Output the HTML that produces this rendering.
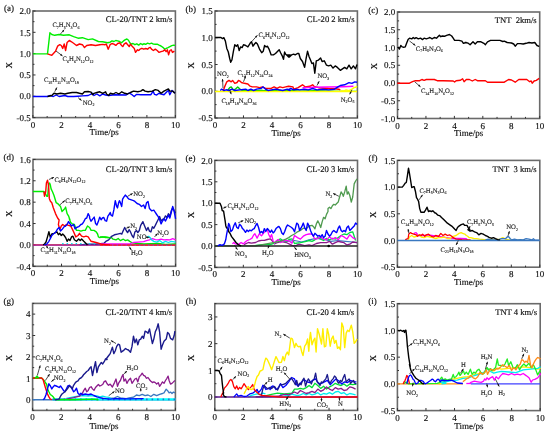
<!DOCTYPE html>
<html><head><meta charset="utf-8"><style>
html,body{margin:0;padding:0;background:#fff;}
svg{display:block;will-change:transform;}
text{font-family:"Liberation Serif", serif;fill:#111;stroke:#111;stroke-width:0.15px;text-rendering:geometricPrecision;}
text.f{stroke-width:0.12px;fill:#222;stroke:#222;}
</style></head><body>
<svg width="550" height="437" viewBox="0 0 550 437">
<rect width="550" height="437" fill="#fff"/>
<text x="4.00" y="11.20" font-size="9" text-anchor="start" >(a)</text>
<text x="185.60" y="11.50" font-size="9" text-anchor="start" >(b)</text>
<text x="368.30" y="12.60" font-size="9" text-anchor="start" >(c)</text>
<text x="3.60" y="159.80" font-size="9" text-anchor="start" >(d)</text>
<text x="185.60" y="160.50" font-size="9" text-anchor="start" >(e)</text>
<text x="368.50" y="160.90" font-size="9" text-anchor="start" >(f)</text>
<text x="3.60" y="304.40" font-size="9" text-anchor="start" >(g)</text>
<text x="185.80" y="304.00" font-size="9" text-anchor="start" >(h)</text>
<text x="368.20" y="304.00" font-size="9" text-anchor="start" >(i)</text>
<text x="172.40" y="22.40" font-size="8.6" text-anchor="end" >CL-20/TNT 2 km/s</text>
<text x="354.50" y="22.20" font-size="8.6" text-anchor="end" >CL-20 2 km/s</text>
<text x="536.70" y="23.10" font-size="8.6" text-anchor="end" >TNT&#160;&#160;2km/s</text>
<text x="172.40" y="171.60" font-size="8.6" text-anchor="end" >CL-20/TNT 3 km/s</text>
<text x="354.20" y="171.80" font-size="8.6" text-anchor="end" >CL-20 3 km/s</text>
<text x="536.70" y="171.80" font-size="8.6" text-anchor="end" >TNT&#160;&#160;3 km/s</text>
<text x="172.20" y="314.90" font-size="8.6" text-anchor="end" >CL-20/TNT 4 km/s</text>
<text x="354.20" y="315.00" font-size="8.6" text-anchor="end" >CL-20 4 km/s</text>
<text x="537.00" y="315.00" font-size="8.6" text-anchor="end" >TNT 4 km/s</text>
<rect x="32.90" y="11.00" width="142.50" height="106.60" fill="none" stroke="#6a6a6a" stroke-width="1.6"/>
<line x1="32.90" y1="117.60" x2="32.90" y2="115.00" stroke="#333" stroke-width="1"/>
<text x="32.90" y="127.60" font-size="9" text-anchor="middle" >0</text>
<line x1="47.15" y1="117.60" x2="47.15" y2="116.00" stroke="#333" stroke-width="1"/>
<line x1="61.40" y1="117.60" x2="61.40" y2="115.00" stroke="#333" stroke-width="1"/>
<text x="61.40" y="127.60" font-size="9" text-anchor="middle" >2</text>
<line x1="75.65" y1="117.60" x2="75.65" y2="116.00" stroke="#333" stroke-width="1"/>
<line x1="89.90" y1="117.60" x2="89.90" y2="115.00" stroke="#333" stroke-width="1"/>
<text x="89.90" y="127.60" font-size="9" text-anchor="middle" >4</text>
<line x1="104.15" y1="117.60" x2="104.15" y2="116.00" stroke="#333" stroke-width="1"/>
<line x1="118.40" y1="117.60" x2="118.40" y2="115.00" stroke="#333" stroke-width="1"/>
<text x="118.40" y="127.60" font-size="9" text-anchor="middle" >6</text>
<line x1="132.65" y1="117.60" x2="132.65" y2="116.00" stroke="#333" stroke-width="1"/>
<line x1="146.90" y1="117.60" x2="146.90" y2="115.00" stroke="#333" stroke-width="1"/>
<text x="146.90" y="127.60" font-size="9" text-anchor="middle" >8</text>
<line x1="161.15" y1="117.60" x2="161.15" y2="116.00" stroke="#333" stroke-width="1"/>
<line x1="175.40" y1="117.60" x2="175.40" y2="115.00" stroke="#333" stroke-width="1"/>
<text x="175.40" y="127.60" font-size="9" text-anchor="middle" >10</text>
<line x1="32.90" y1="117.60" x2="35.50" y2="117.60" stroke="#333" stroke-width="1"/>
<text x="30.70" y="120.80" font-size="9" text-anchor="end" >-0.5</text>
<line x1="32.90" y1="106.94" x2="34.50" y2="106.94" stroke="#333" stroke-width="1"/>
<line x1="32.90" y1="96.28" x2="35.50" y2="96.28" stroke="#333" stroke-width="1"/>
<text x="30.70" y="99.48" font-size="9" text-anchor="end" >0.0</text>
<line x1="32.90" y1="85.62" x2="34.50" y2="85.62" stroke="#333" stroke-width="1"/>
<line x1="32.90" y1="74.96" x2="35.50" y2="74.96" stroke="#333" stroke-width="1"/>
<text x="30.70" y="78.16" font-size="9" text-anchor="end" >0.5</text>
<line x1="32.90" y1="64.30" x2="34.50" y2="64.30" stroke="#333" stroke-width="1"/>
<line x1="32.90" y1="53.64" x2="35.50" y2="53.64" stroke="#333" stroke-width="1"/>
<text x="30.70" y="56.84" font-size="9" text-anchor="end" >1.0</text>
<line x1="32.90" y1="42.98" x2="34.50" y2="42.98" stroke="#333" stroke-width="1"/>
<line x1="32.90" y1="32.32" x2="35.50" y2="32.32" stroke="#333" stroke-width="1"/>
<text x="30.70" y="35.52" font-size="9" text-anchor="end" >1.5</text>
<line x1="32.90" y1="21.66" x2="34.50" y2="21.66" stroke="#333" stroke-width="1"/>
<line x1="32.90" y1="11.00" x2="35.50" y2="11.00" stroke="#333" stroke-width="1"/>
<text x="30.70" y="14.20" font-size="9" text-anchor="end" >2.0</text>
<text x="104.15" y="135.20" font-size="9" text-anchor="middle" >Time/ps</text>
<text x="0" y="0" font-size="9" text-anchor="middle" transform="translate(11.90,65.30) rotate(-90)">X</text>
<rect x="215.00" y="11.00" width="142.40" height="107.00" fill="none" stroke="#6a6a6a" stroke-width="1.6"/>
<line x1="215.00" y1="118.00" x2="215.00" y2="115.40" stroke="#333" stroke-width="1"/>
<text x="215.00" y="128.00" font-size="9" text-anchor="middle" >0</text>
<line x1="229.24" y1="118.00" x2="229.24" y2="116.40" stroke="#333" stroke-width="1"/>
<line x1="243.48" y1="118.00" x2="243.48" y2="115.40" stroke="#333" stroke-width="1"/>
<text x="243.48" y="128.00" font-size="9" text-anchor="middle" >2</text>
<line x1="257.72" y1="118.00" x2="257.72" y2="116.40" stroke="#333" stroke-width="1"/>
<line x1="271.96" y1="118.00" x2="271.96" y2="115.40" stroke="#333" stroke-width="1"/>
<text x="271.96" y="128.00" font-size="9" text-anchor="middle" >4</text>
<line x1="286.20" y1="118.00" x2="286.20" y2="116.40" stroke="#333" stroke-width="1"/>
<line x1="300.44" y1="118.00" x2="300.44" y2="115.40" stroke="#333" stroke-width="1"/>
<text x="300.44" y="128.00" font-size="9" text-anchor="middle" >6</text>
<line x1="314.68" y1="118.00" x2="314.68" y2="116.40" stroke="#333" stroke-width="1"/>
<line x1="328.92" y1="118.00" x2="328.92" y2="115.40" stroke="#333" stroke-width="1"/>
<text x="328.92" y="128.00" font-size="9" text-anchor="middle" >8</text>
<line x1="343.16" y1="118.00" x2="343.16" y2="116.40" stroke="#333" stroke-width="1"/>
<line x1="357.40" y1="118.00" x2="357.40" y2="115.40" stroke="#333" stroke-width="1"/>
<text x="357.40" y="128.00" font-size="9" text-anchor="middle" >10</text>
<line x1="215.00" y1="118.00" x2="217.60" y2="118.00" stroke="#333" stroke-width="1"/>
<text x="212.80" y="121.20" font-size="9" text-anchor="end" >-0.5</text>
<line x1="215.00" y1="104.62" x2="216.60" y2="104.62" stroke="#333" stroke-width="1"/>
<line x1="215.00" y1="91.25" x2="217.60" y2="91.25" stroke="#333" stroke-width="1"/>
<text x="212.80" y="94.45" font-size="9" text-anchor="end" >0.0</text>
<line x1="215.00" y1="77.88" x2="216.60" y2="77.88" stroke="#333" stroke-width="1"/>
<line x1="215.00" y1="64.50" x2="217.60" y2="64.50" stroke="#333" stroke-width="1"/>
<text x="212.80" y="67.70" font-size="9" text-anchor="end" >0.5</text>
<line x1="215.00" y1="51.12" x2="216.60" y2="51.12" stroke="#333" stroke-width="1"/>
<line x1="215.00" y1="37.75" x2="217.60" y2="37.75" stroke="#333" stroke-width="1"/>
<text x="212.80" y="40.95" font-size="9" text-anchor="end" >1.0</text>
<line x1="215.00" y1="24.38" x2="216.60" y2="24.38" stroke="#333" stroke-width="1"/>
<line x1="215.00" y1="11.00" x2="217.60" y2="11.00" stroke="#333" stroke-width="1"/>
<text x="212.80" y="14.20" font-size="9" text-anchor="end" >1.5</text>
<text x="286.20" y="135.60" font-size="9" text-anchor="middle" >Time/ps</text>
<text x="0" y="0" font-size="9" text-anchor="middle" transform="translate(194.00,65.50) rotate(-90)">X</text>
<rect x="397.50" y="12.00" width="142.20" height="106.50" fill="none" stroke="#6a6a6a" stroke-width="1.6"/>
<line x1="397.50" y1="118.50" x2="397.50" y2="115.90" stroke="#333" stroke-width="1"/>
<text x="397.50" y="128.50" font-size="9" text-anchor="middle" >0</text>
<line x1="411.72" y1="118.50" x2="411.72" y2="116.90" stroke="#333" stroke-width="1"/>
<line x1="425.94" y1="118.50" x2="425.94" y2="115.90" stroke="#333" stroke-width="1"/>
<text x="425.94" y="128.50" font-size="9" text-anchor="middle" >2</text>
<line x1="440.16" y1="118.50" x2="440.16" y2="116.90" stroke="#333" stroke-width="1"/>
<line x1="454.38" y1="118.50" x2="454.38" y2="115.90" stroke="#333" stroke-width="1"/>
<text x="454.38" y="128.50" font-size="9" text-anchor="middle" >4</text>
<line x1="468.60" y1="118.50" x2="468.60" y2="116.90" stroke="#333" stroke-width="1"/>
<line x1="482.82" y1="118.50" x2="482.82" y2="115.90" stroke="#333" stroke-width="1"/>
<text x="482.82" y="128.50" font-size="9" text-anchor="middle" >6</text>
<line x1="497.04" y1="118.50" x2="497.04" y2="116.90" stroke="#333" stroke-width="1"/>
<line x1="511.26" y1="118.50" x2="511.26" y2="115.90" stroke="#333" stroke-width="1"/>
<text x="511.26" y="128.50" font-size="9" text-anchor="middle" >8</text>
<line x1="525.48" y1="118.50" x2="525.48" y2="116.90" stroke="#333" stroke-width="1"/>
<line x1="539.70" y1="118.50" x2="539.70" y2="115.90" stroke="#333" stroke-width="1"/>
<text x="539.70" y="128.50" font-size="9" text-anchor="middle" >10</text>
<line x1="397.50" y1="118.50" x2="400.10" y2="118.50" stroke="#333" stroke-width="1"/>
<text x="395.30" y="121.70" font-size="9" text-anchor="end" >-1.0</text>
<line x1="397.50" y1="109.62" x2="399.10" y2="109.62" stroke="#333" stroke-width="1"/>
<line x1="397.50" y1="100.75" x2="400.10" y2="100.75" stroke="#333" stroke-width="1"/>
<text x="395.30" y="103.95" font-size="9" text-anchor="end" >-0.5</text>
<line x1="397.50" y1="91.88" x2="399.10" y2="91.88" stroke="#333" stroke-width="1"/>
<line x1="397.50" y1="83.00" x2="400.10" y2="83.00" stroke="#333" stroke-width="1"/>
<text x="395.30" y="86.20" font-size="9" text-anchor="end" >0.0</text>
<line x1="397.50" y1="74.12" x2="399.10" y2="74.12" stroke="#333" stroke-width="1"/>
<line x1="397.50" y1="65.25" x2="400.10" y2="65.25" stroke="#333" stroke-width="1"/>
<text x="395.30" y="68.45" font-size="9" text-anchor="end" >0.5</text>
<line x1="397.50" y1="56.38" x2="399.10" y2="56.38" stroke="#333" stroke-width="1"/>
<line x1="397.50" y1="47.50" x2="400.10" y2="47.50" stroke="#333" stroke-width="1"/>
<text x="395.30" y="50.70" font-size="9" text-anchor="end" >1.0</text>
<line x1="397.50" y1="38.62" x2="399.10" y2="38.62" stroke="#333" stroke-width="1"/>
<line x1="397.50" y1="29.75" x2="400.10" y2="29.75" stroke="#333" stroke-width="1"/>
<text x="395.30" y="32.95" font-size="9" text-anchor="end" >1.5</text>
<line x1="397.50" y1="20.88" x2="399.10" y2="20.88" stroke="#333" stroke-width="1"/>
<line x1="397.50" y1="12.00" x2="400.10" y2="12.00" stroke="#333" stroke-width="1"/>
<text x="395.30" y="15.20" font-size="9" text-anchor="end" >2.0</text>
<text x="468.60" y="136.10" font-size="9" text-anchor="middle" >Time/ps</text>
<text x="0" y="0" font-size="9" text-anchor="middle" transform="translate(376.50,66.25) rotate(-90)">X</text>
<rect x="33.00" y="159.40" width="142.60" height="106.90" fill="none" stroke="#6a6a6a" stroke-width="1.6"/>
<line x1="33.00" y1="266.30" x2="33.00" y2="263.70" stroke="#333" stroke-width="1"/>
<text x="33.00" y="276.30" font-size="9" text-anchor="middle" >0</text>
<line x1="47.26" y1="266.30" x2="47.26" y2="264.70" stroke="#333" stroke-width="1"/>
<line x1="61.52" y1="266.30" x2="61.52" y2="263.70" stroke="#333" stroke-width="1"/>
<text x="61.52" y="276.30" font-size="9" text-anchor="middle" >2</text>
<line x1="75.78" y1="266.30" x2="75.78" y2="264.70" stroke="#333" stroke-width="1"/>
<line x1="90.04" y1="266.30" x2="90.04" y2="263.70" stroke="#333" stroke-width="1"/>
<text x="90.04" y="276.30" font-size="9" text-anchor="middle" >4</text>
<line x1="104.30" y1="266.30" x2="104.30" y2="264.70" stroke="#333" stroke-width="1"/>
<line x1="118.56" y1="266.30" x2="118.56" y2="263.70" stroke="#333" stroke-width="1"/>
<text x="118.56" y="276.30" font-size="9" text-anchor="middle" >6</text>
<line x1="132.82" y1="266.30" x2="132.82" y2="264.70" stroke="#333" stroke-width="1"/>
<line x1="147.08" y1="266.30" x2="147.08" y2="263.70" stroke="#333" stroke-width="1"/>
<text x="147.08" y="276.30" font-size="9" text-anchor="middle" >8</text>
<line x1="161.34" y1="266.30" x2="161.34" y2="264.70" stroke="#333" stroke-width="1"/>
<line x1="175.60" y1="266.30" x2="175.60" y2="263.70" stroke="#333" stroke-width="1"/>
<text x="175.60" y="276.30" font-size="9" text-anchor="middle" >10</text>
<line x1="33.00" y1="266.30" x2="35.60" y2="266.30" stroke="#333" stroke-width="1"/>
<text x="30.80" y="269.50" font-size="9" text-anchor="end" >-0.4</text>
<line x1="33.00" y1="255.61" x2="34.60" y2="255.61" stroke="#333" stroke-width="1"/>
<line x1="33.00" y1="244.92" x2="35.60" y2="244.92" stroke="#333" stroke-width="1"/>
<text x="30.80" y="248.12" font-size="9" text-anchor="end" >0.0</text>
<line x1="33.00" y1="234.23" x2="34.60" y2="234.23" stroke="#333" stroke-width="1"/>
<line x1="33.00" y1="223.54" x2="35.60" y2="223.54" stroke="#333" stroke-width="1"/>
<text x="30.80" y="226.74" font-size="9" text-anchor="end" >0.4</text>
<line x1="33.00" y1="212.85" x2="34.60" y2="212.85" stroke="#333" stroke-width="1"/>
<line x1="33.00" y1="202.16" x2="35.60" y2="202.16" stroke="#333" stroke-width="1"/>
<text x="30.80" y="205.36" font-size="9" text-anchor="end" >0.8</text>
<line x1="33.00" y1="191.47" x2="34.60" y2="191.47" stroke="#333" stroke-width="1"/>
<line x1="33.00" y1="180.78" x2="35.60" y2="180.78" stroke="#333" stroke-width="1"/>
<text x="30.80" y="183.98" font-size="9" text-anchor="end" >1.2</text>
<line x1="33.00" y1="170.09" x2="34.60" y2="170.09" stroke="#333" stroke-width="1"/>
<line x1="33.00" y1="159.40" x2="35.60" y2="159.40" stroke="#333" stroke-width="1"/>
<text x="30.80" y="162.60" font-size="9" text-anchor="end" >1.6</text>
<text x="104.30" y="283.90" font-size="9" text-anchor="middle" >Time/ps</text>
<text x="0" y="0" font-size="9" text-anchor="middle" transform="translate(12.00,213.85) rotate(-90)">X</text>
<rect x="214.80" y="160.40" width="142.70" height="107.00" fill="none" stroke="#6a6a6a" stroke-width="1.6"/>
<line x1="214.80" y1="267.40" x2="214.80" y2="264.80" stroke="#333" stroke-width="1"/>
<text x="214.80" y="277.40" font-size="9" text-anchor="middle" >0</text>
<line x1="229.07" y1="267.40" x2="229.07" y2="265.80" stroke="#333" stroke-width="1"/>
<line x1="243.34" y1="267.40" x2="243.34" y2="264.80" stroke="#333" stroke-width="1"/>
<text x="243.34" y="277.40" font-size="9" text-anchor="middle" >2</text>
<line x1="257.61" y1="267.40" x2="257.61" y2="265.80" stroke="#333" stroke-width="1"/>
<line x1="271.88" y1="267.40" x2="271.88" y2="264.80" stroke="#333" stroke-width="1"/>
<text x="271.88" y="277.40" font-size="9" text-anchor="middle" >4</text>
<line x1="286.15" y1="267.40" x2="286.15" y2="265.80" stroke="#333" stroke-width="1"/>
<line x1="300.42" y1="267.40" x2="300.42" y2="264.80" stroke="#333" stroke-width="1"/>
<text x="300.42" y="277.40" font-size="9" text-anchor="middle" >6</text>
<line x1="314.69" y1="267.40" x2="314.69" y2="265.80" stroke="#333" stroke-width="1"/>
<line x1="328.96" y1="267.40" x2="328.96" y2="264.80" stroke="#333" stroke-width="1"/>
<text x="328.96" y="277.40" font-size="9" text-anchor="middle" >8</text>
<line x1="343.23" y1="267.40" x2="343.23" y2="265.80" stroke="#333" stroke-width="1"/>
<line x1="357.50" y1="267.40" x2="357.50" y2="264.80" stroke="#333" stroke-width="1"/>
<text x="357.50" y="277.40" font-size="9" text-anchor="middle" >10</text>
<line x1="214.80" y1="267.40" x2="217.40" y2="267.40" stroke="#333" stroke-width="1"/>
<text x="212.60" y="270.60" font-size="9" text-anchor="end" >-0.5</text>
<line x1="214.80" y1="256.70" x2="216.40" y2="256.70" stroke="#333" stroke-width="1"/>
<line x1="214.80" y1="246.00" x2="217.40" y2="246.00" stroke="#333" stroke-width="1"/>
<text x="212.60" y="249.20" font-size="9" text-anchor="end" >0.0</text>
<line x1="214.80" y1="235.30" x2="216.40" y2="235.30" stroke="#333" stroke-width="1"/>
<line x1="214.80" y1="224.60" x2="217.40" y2="224.60" stroke="#333" stroke-width="1"/>
<text x="212.60" y="227.80" font-size="9" text-anchor="end" >0.5</text>
<line x1="214.80" y1="213.90" x2="216.40" y2="213.90" stroke="#333" stroke-width="1"/>
<line x1="214.80" y1="203.20" x2="217.40" y2="203.20" stroke="#333" stroke-width="1"/>
<text x="212.60" y="206.40" font-size="9" text-anchor="end" >1.0</text>
<line x1="214.80" y1="192.50" x2="216.40" y2="192.50" stroke="#333" stroke-width="1"/>
<line x1="214.80" y1="181.80" x2="217.40" y2="181.80" stroke="#333" stroke-width="1"/>
<text x="212.60" y="185.00" font-size="9" text-anchor="end" >1.5</text>
<line x1="214.80" y1="171.10" x2="216.40" y2="171.10" stroke="#333" stroke-width="1"/>
<line x1="214.80" y1="160.40" x2="217.40" y2="160.40" stroke="#333" stroke-width="1"/>
<text x="212.60" y="163.60" font-size="9" text-anchor="end" >2.0</text>
<text x="286.15" y="285.00" font-size="9" text-anchor="middle" >Time/ps</text>
<text x="0" y="0" font-size="9" text-anchor="middle" transform="translate(193.80,214.90) rotate(-90)">X</text>
<rect x="397.40" y="160.40" width="142.40" height="106.80" fill="none" stroke="#6a6a6a" stroke-width="1.6"/>
<line x1="397.40" y1="267.20" x2="397.40" y2="264.60" stroke="#333" stroke-width="1"/>
<text x="397.40" y="277.20" font-size="9" text-anchor="middle" >0</text>
<line x1="411.64" y1="267.20" x2="411.64" y2="265.60" stroke="#333" stroke-width="1"/>
<line x1="425.88" y1="267.20" x2="425.88" y2="264.60" stroke="#333" stroke-width="1"/>
<text x="425.88" y="277.20" font-size="9" text-anchor="middle" >2</text>
<line x1="440.12" y1="267.20" x2="440.12" y2="265.60" stroke="#333" stroke-width="1"/>
<line x1="454.36" y1="267.20" x2="454.36" y2="264.60" stroke="#333" stroke-width="1"/>
<text x="454.36" y="277.20" font-size="9" text-anchor="middle" >4</text>
<line x1="468.60" y1="267.20" x2="468.60" y2="265.60" stroke="#333" stroke-width="1"/>
<line x1="482.84" y1="267.20" x2="482.84" y2="264.60" stroke="#333" stroke-width="1"/>
<text x="482.84" y="277.20" font-size="9" text-anchor="middle" >6</text>
<line x1="497.08" y1="267.20" x2="497.08" y2="265.60" stroke="#333" stroke-width="1"/>
<line x1="511.32" y1="267.20" x2="511.32" y2="264.60" stroke="#333" stroke-width="1"/>
<text x="511.32" y="277.20" font-size="9" text-anchor="middle" >8</text>
<line x1="525.56" y1="267.20" x2="525.56" y2="265.60" stroke="#333" stroke-width="1"/>
<line x1="539.80" y1="267.20" x2="539.80" y2="264.60" stroke="#333" stroke-width="1"/>
<text x="539.80" y="277.20" font-size="9" text-anchor="middle" >10</text>
<line x1="397.40" y1="267.20" x2="400.00" y2="267.20" stroke="#333" stroke-width="1"/>
<text x="395.20" y="270.40" font-size="9" text-anchor="end" >-0.5</text>
<line x1="397.40" y1="253.85" x2="399.00" y2="253.85" stroke="#333" stroke-width="1"/>
<line x1="397.40" y1="240.50" x2="400.00" y2="240.50" stroke="#333" stroke-width="1"/>
<text x="395.20" y="243.70" font-size="9" text-anchor="end" >0.0</text>
<line x1="397.40" y1="227.15" x2="399.00" y2="227.15" stroke="#333" stroke-width="1"/>
<line x1="397.40" y1="213.80" x2="400.00" y2="213.80" stroke="#333" stroke-width="1"/>
<text x="395.20" y="217.00" font-size="9" text-anchor="end" >0.5</text>
<line x1="397.40" y1="200.45" x2="399.00" y2="200.45" stroke="#333" stroke-width="1"/>
<line x1="397.40" y1="187.10" x2="400.00" y2="187.10" stroke="#333" stroke-width="1"/>
<text x="395.20" y="190.30" font-size="9" text-anchor="end" >1.0</text>
<line x1="397.40" y1="173.75" x2="399.00" y2="173.75" stroke="#333" stroke-width="1"/>
<line x1="397.40" y1="160.40" x2="400.00" y2="160.40" stroke="#333" stroke-width="1"/>
<text x="395.20" y="163.60" font-size="9" text-anchor="end" >1.5</text>
<text x="468.60" y="284.80" font-size="9" text-anchor="middle" >Time/ps</text>
<text x="0" y="0" font-size="9" text-anchor="middle" transform="translate(376.40,214.80) rotate(-90)">X</text>
<rect x="32.60" y="303.40" width="142.80" height="107.00" fill="none" stroke="#6a6a6a" stroke-width="1.6"/>
<line x1="32.60" y1="410.40" x2="32.60" y2="407.80" stroke="#333" stroke-width="1"/>
<text x="32.60" y="420.40" font-size="9" text-anchor="middle" >0</text>
<line x1="46.88" y1="410.40" x2="46.88" y2="408.80" stroke="#333" stroke-width="1"/>
<line x1="61.16" y1="410.40" x2="61.16" y2="407.80" stroke="#333" stroke-width="1"/>
<text x="61.16" y="420.40" font-size="9" text-anchor="middle" >2</text>
<line x1="75.44" y1="410.40" x2="75.44" y2="408.80" stroke="#333" stroke-width="1"/>
<line x1="89.72" y1="410.40" x2="89.72" y2="407.80" stroke="#333" stroke-width="1"/>
<text x="89.72" y="420.40" font-size="9" text-anchor="middle" >4</text>
<line x1="104.00" y1="410.40" x2="104.00" y2="408.80" stroke="#333" stroke-width="1"/>
<line x1="118.28" y1="410.40" x2="118.28" y2="407.80" stroke="#333" stroke-width="1"/>
<text x="118.28" y="420.40" font-size="9" text-anchor="middle" >6</text>
<line x1="132.56" y1="410.40" x2="132.56" y2="408.80" stroke="#333" stroke-width="1"/>
<line x1="146.84" y1="410.40" x2="146.84" y2="407.80" stroke="#333" stroke-width="1"/>
<text x="146.84" y="420.40" font-size="9" text-anchor="middle" >8</text>
<line x1="161.12" y1="410.40" x2="161.12" y2="408.80" stroke="#333" stroke-width="1"/>
<line x1="175.40" y1="410.40" x2="175.40" y2="407.80" stroke="#333" stroke-width="1"/>
<text x="175.40" y="420.40" font-size="9" text-anchor="middle" >10</text>
<line x1="32.60" y1="410.40" x2="34.20" y2="410.40" stroke="#333" stroke-width="1"/>
<line x1="32.60" y1="399.70" x2="35.20" y2="399.70" stroke="#333" stroke-width="1"/>
<text x="30.40" y="402.90" font-size="9" text-anchor="end" >0</text>
<line x1="32.60" y1="389.00" x2="34.20" y2="389.00" stroke="#333" stroke-width="1"/>
<line x1="32.60" y1="378.30" x2="35.20" y2="378.30" stroke="#333" stroke-width="1"/>
<text x="30.40" y="381.50" font-size="9" text-anchor="end" >1</text>
<line x1="32.60" y1="367.60" x2="34.20" y2="367.60" stroke="#333" stroke-width="1"/>
<line x1="32.60" y1="356.90" x2="35.20" y2="356.90" stroke="#333" stroke-width="1"/>
<text x="30.40" y="360.10" font-size="9" text-anchor="end" >2</text>
<line x1="32.60" y1="346.20" x2="34.20" y2="346.20" stroke="#333" stroke-width="1"/>
<line x1="32.60" y1="335.50" x2="35.20" y2="335.50" stroke="#333" stroke-width="1"/>
<text x="30.40" y="338.70" font-size="9" text-anchor="end" >3</text>
<line x1="32.60" y1="324.80" x2="34.20" y2="324.80" stroke="#333" stroke-width="1"/>
<line x1="32.60" y1="314.10" x2="35.20" y2="314.10" stroke="#333" stroke-width="1"/>
<text x="30.40" y="317.30" font-size="9" text-anchor="end" >4</text>
<line x1="32.60" y1="303.40" x2="34.20" y2="303.40" stroke="#333" stroke-width="1"/>
<text x="104.00" y="428.80" font-size="9" text-anchor="middle" >Time/ps</text>
<text x="0" y="0" font-size="9" text-anchor="middle" transform="translate(11.60,357.90) rotate(-90)">X</text>
<rect x="214.80" y="303.60" width="142.80" height="106.80" fill="none" stroke="#6a6a6a" stroke-width="1.6"/>
<line x1="214.80" y1="410.40" x2="214.80" y2="407.80" stroke="#333" stroke-width="1"/>
<text x="214.80" y="420.40" font-size="9" text-anchor="middle" >0</text>
<line x1="229.08" y1="410.40" x2="229.08" y2="408.80" stroke="#333" stroke-width="1"/>
<line x1="243.36" y1="410.40" x2="243.36" y2="407.80" stroke="#333" stroke-width="1"/>
<text x="243.36" y="420.40" font-size="9" text-anchor="middle" >2</text>
<line x1="257.64" y1="410.40" x2="257.64" y2="408.80" stroke="#333" stroke-width="1"/>
<line x1="271.92" y1="410.40" x2="271.92" y2="407.80" stroke="#333" stroke-width="1"/>
<text x="271.92" y="420.40" font-size="9" text-anchor="middle" >4</text>
<line x1="286.20" y1="410.40" x2="286.20" y2="408.80" stroke="#333" stroke-width="1"/>
<line x1="300.48" y1="410.40" x2="300.48" y2="407.80" stroke="#333" stroke-width="1"/>
<text x="300.48" y="420.40" font-size="9" text-anchor="middle" >6</text>
<line x1="314.76" y1="410.40" x2="314.76" y2="408.80" stroke="#333" stroke-width="1"/>
<line x1="329.04" y1="410.40" x2="329.04" y2="407.80" stroke="#333" stroke-width="1"/>
<text x="329.04" y="420.40" font-size="9" text-anchor="middle" >8</text>
<line x1="343.32" y1="410.40" x2="343.32" y2="408.80" stroke="#333" stroke-width="1"/>
<line x1="357.60" y1="410.40" x2="357.60" y2="407.80" stroke="#333" stroke-width="1"/>
<text x="357.60" y="420.40" font-size="9" text-anchor="middle" >10</text>
<line x1="214.80" y1="410.40" x2="216.40" y2="410.40" stroke="#333" stroke-width="1"/>
<line x1="214.80" y1="397.05" x2="217.40" y2="397.05" stroke="#333" stroke-width="1"/>
<text x="212.60" y="400.25" font-size="9" text-anchor="end" >0</text>
<line x1="214.80" y1="383.70" x2="216.40" y2="383.70" stroke="#333" stroke-width="1"/>
<line x1="214.80" y1="370.35" x2="217.40" y2="370.35" stroke="#333" stroke-width="1"/>
<text x="212.60" y="373.55" font-size="9" text-anchor="end" >1</text>
<line x1="214.80" y1="357.00" x2="216.40" y2="357.00" stroke="#333" stroke-width="1"/>
<line x1="214.80" y1="343.65" x2="217.40" y2="343.65" stroke="#333" stroke-width="1"/>
<text x="212.60" y="346.85" font-size="9" text-anchor="end" >2</text>
<line x1="214.80" y1="330.30" x2="216.40" y2="330.30" stroke="#333" stroke-width="1"/>
<line x1="214.80" y1="316.95" x2="217.40" y2="316.95" stroke="#333" stroke-width="1"/>
<text x="212.60" y="320.15" font-size="9" text-anchor="end" >3</text>
<line x1="214.80" y1="303.60" x2="216.40" y2="303.60" stroke="#333" stroke-width="1"/>
<text x="286.20" y="428.80" font-size="9" text-anchor="middle" >Time/ps</text>
<text x="0" y="0" font-size="9" text-anchor="middle" transform="translate(193.80,358.00) rotate(-90)">X</text>
<rect x="397.40" y="303.70" width="142.80" height="106.90" fill="none" stroke="#6a6a6a" stroke-width="1.6"/>
<line x1="397.40" y1="410.60" x2="397.40" y2="408.00" stroke="#333" stroke-width="1"/>
<text x="397.40" y="420.60" font-size="9" text-anchor="middle" >0</text>
<line x1="411.68" y1="410.60" x2="411.68" y2="409.00" stroke="#333" stroke-width="1"/>
<line x1="425.96" y1="410.60" x2="425.96" y2="408.00" stroke="#333" stroke-width="1"/>
<text x="425.96" y="420.60" font-size="9" text-anchor="middle" >2</text>
<line x1="440.24" y1="410.60" x2="440.24" y2="409.00" stroke="#333" stroke-width="1"/>
<line x1="454.52" y1="410.60" x2="454.52" y2="408.00" stroke="#333" stroke-width="1"/>
<text x="454.52" y="420.60" font-size="9" text-anchor="middle" >4</text>
<line x1="468.80" y1="410.60" x2="468.80" y2="409.00" stroke="#333" stroke-width="1"/>
<line x1="483.08" y1="410.60" x2="483.08" y2="408.00" stroke="#333" stroke-width="1"/>
<text x="483.08" y="420.60" font-size="9" text-anchor="middle" >6</text>
<line x1="497.36" y1="410.60" x2="497.36" y2="409.00" stroke="#333" stroke-width="1"/>
<line x1="511.64" y1="410.60" x2="511.64" y2="408.00" stroke="#333" stroke-width="1"/>
<text x="511.64" y="420.60" font-size="9" text-anchor="middle" >8</text>
<line x1="525.92" y1="410.60" x2="525.92" y2="409.00" stroke="#333" stroke-width="1"/>
<line x1="540.20" y1="410.60" x2="540.20" y2="408.00" stroke="#333" stroke-width="1"/>
<text x="540.20" y="420.60" font-size="9" text-anchor="middle" >10</text>
<line x1="397.40" y1="410.60" x2="400.00" y2="410.60" stroke="#333" stroke-width="1"/>
<text x="395.20" y="413.80" font-size="9" text-anchor="end" >-0.5</text>
<line x1="397.40" y1="397.24" x2="399.00" y2="397.24" stroke="#333" stroke-width="1"/>
<line x1="397.40" y1="383.88" x2="400.00" y2="383.88" stroke="#333" stroke-width="1"/>
<text x="395.20" y="387.07" font-size="9" text-anchor="end" >0.0</text>
<line x1="397.40" y1="370.51" x2="399.00" y2="370.51" stroke="#333" stroke-width="1"/>
<line x1="397.40" y1="357.15" x2="400.00" y2="357.15" stroke="#333" stroke-width="1"/>
<text x="395.20" y="360.35" font-size="9" text-anchor="end" >0.5</text>
<line x1="397.40" y1="343.79" x2="399.00" y2="343.79" stroke="#333" stroke-width="1"/>
<line x1="397.40" y1="330.43" x2="400.00" y2="330.43" stroke="#333" stroke-width="1"/>
<text x="395.20" y="333.62" font-size="9" text-anchor="end" >1.0</text>
<line x1="397.40" y1="317.06" x2="399.00" y2="317.06" stroke="#333" stroke-width="1"/>
<line x1="397.40" y1="303.70" x2="400.00" y2="303.70" stroke="#333" stroke-width="1"/>
<text x="395.20" y="306.90" font-size="9" text-anchor="end" >1.5</text>
<text x="468.80" y="429.00" font-size="9" text-anchor="middle" >Time/ps</text>
<text x="0" y="0" font-size="9" text-anchor="middle" transform="translate(376.40,358.15) rotate(-90)">X</text>
<polyline points="33.0,53.9 47.5,53.9 49.9,32.8 51.8,34.5 54.7,35.3 59.1,34.5 63.5,35.3 69.3,34.8 73.6,36.7 78.0,38.2 82.4,37.7 88.2,39.6 92.5,38.9 98.4,41.5 102.7,41.8 105.0,42.2 107.5,42.8 110.1,42.2 112.0,40.9 113.9,41.5 115.8,40.5 117.7,40.9 119.6,41.5 121.5,42.8 123.5,40.9 125.4,39.6 126.9,39.0 128.5,40.3 129.8,42.8 131.1,44.1 133.0,43.5 134.9,44.7 136.8,43.8 138.7,45.1 140.6,43.5 142.5,44.7 143.8,43.8 145.7,44.3 147.6,43.2 149.5,43.8 151.5,43.1 153.4,44.1 155.3,44.3 157.2,44.1 159.1,45.1 161.0,46.0 162.9,47.3 164.8,49.2 166.1,48.5 168.0,47.7 169.9,46.6 171.8,45.6 173.7,45.1 175.0,45.4" fill="none" stroke="#00ee00" stroke-width="1.4" stroke-linejoin="round"/>
<polyline points="47.5,53.9 51.8,55.3 55.5,51.3 57.6,46.2 59.8,44.7 61.3,45.5 62.7,48.4 64.2,44.0 65.6,50.5 67.1,42.5 69.3,40.4 71.5,41.8 73.6,43.3 76.5,45.5 79.5,44.0 82.4,44.7 84.5,47.6 86.7,45.5 91.1,44.7 95.5,45.5 99.8,44.7 102.7,44.4 105.0,44.7 106.3,44.1 108.2,49.2 110.1,44.7 112.0,43.5 113.9,44.1 115.8,45.4 117.7,43.5 119.6,42.8 121.5,45.4 122.8,46.6 124.1,44.1 126.0,42.8 127.7,44.7 129.2,46.6 130.5,44.1 132.4,46.6 134.3,48.5 135.5,52.4 137.5,49.8 138.7,50.5 140.0,49.2 141.9,48.3 143.8,49.2 145.7,48.5 147.6,49.2 148.9,47.9 150.2,47.3 151.5,49.2 153.4,50.5 155.3,49.2 157.2,50.5 159.1,52.4 161.0,51.7 162.9,51.1 164.8,49.8 166.1,51.7 167.4,49.8 168.6,54.9 169.9,50.5 171.2,49.8 172.5,52.4 174.4,51.1" fill="none" stroke="#ff0000" stroke-width="1.4" stroke-linejoin="round"/>
<polyline points="32.9,96.5 47.5,96.5 50.4,95.5 53.3,96.5 56.2,95.0 59.1,96.5 64.9,95.5 67.8,96.5 73.6,96.5 78.0,96.2 82.4,95.9 88.2,95.5 92.5,93.3 94.0,95.5 96.9,94.0 99.8,95.9 102.7,94.0 105.6,95.0 108.7,95.5 114.5,94.7 126.2,95.0 129.1,93.0 132.0,94.7 134.2,96.5 136.4,94.4 140.7,94.7 150.9,94.7 153.1,91.1 154.5,94.4 156.7,95.0 158.9,93.3 161.1,94.0 164.0,94.7 166.9,91.8 168.4,90.4 169.8,94.7 172.0,90.4 174.2,92.5 174.9,93.3" fill="none" stroke="#0000ff" stroke-width="1.4" stroke-linejoin="round"/>
<polyline points="47.5,96.5 51.8,95.5 54.0,93.3 56.9,94.0 60.5,93.3 64.9,94.0 67.8,93.3 72.2,92.5 76.5,92.5 79.5,93.3 82.4,94.0 84.5,91.8 88.2,91.5 91.1,92.1 92.5,94.7 94.0,93.3 96.9,92.5 99.8,91.8 102.7,93.3 105.6,91.8 106.5,94.0 108.7,95.5 110.2,93.3 113.1,94.0 116.0,92.5 118.9,94.0 121.8,91.8 124.7,93.3 127.6,94.0 130.5,92.5 133.5,91.1 137.8,91.8 140.7,91.1 142.9,89.6 145.1,91.1 148.0,91.8 152.4,91.1 155.3,89.6 158.2,90.4 161.1,93.3 164.0,91.1 166.9,89.6 168.4,88.9 169.8,91.1 172.7,91.1 174.9,93.3" fill="none" stroke="#000000" stroke-width="1.4" stroke-linejoin="round"/>
<text class="f" x="52.40" y="26.80" font-size="6.7" text-anchor="start"><tspan dy="-0.00">C</tspan><tspan font-size="4.0" dy="1.80">7</tspan><tspan dy="-1.80">H</tspan><tspan font-size="4.0" dy="1.80">5</tspan><tspan dy="-1.80">N</tspan><tspan font-size="4.0" dy="1.80">3</tspan><tspan dy="-1.80">O</tspan><tspan font-size="4.0" dy="1.80">6</tspan></text>
<line x1="64.2" y1="29.7" x2="60.4" y2="34.1" stroke="#111" stroke-width="0.75"/>
<polygon points="64.2,29.7 63.4,32.2 61.9,30.9" fill="#111"/>
<text class="f" x="62.60" y="61.40" font-size="6.7" text-anchor="start"><tspan dy="-0.00">C</tspan><tspan font-size="4.0" dy="1.80">6</tspan><tspan dy="-1.80">H</tspan><tspan font-size="4.0" dy="1.80">6</tspan><tspan dy="-1.80">N</tspan><tspan font-size="4.0" dy="1.80">12</tspan><tspan dy="-1.80">O</tspan><tspan font-size="4.0" dy="1.80">12</tspan></text>
<line x1="62.5" y1="55.9" x2="56.0" y2="51.0" stroke="#111" stroke-width="0.75"/>
<polygon points="62.5,55.9 60.0,55.3 61.2,53.7" fill="#111"/>
<text class="f" x="43.90" y="82.40" font-size="6.7" text-anchor="start"><tspan dy="-0.00">C</tspan><tspan font-size="4.0" dy="1.80">15</tspan><tspan dy="-1.80">H</tspan><tspan font-size="4.0" dy="1.80">11</tspan><tspan dy="-1.80">N</tspan><tspan font-size="4.0" dy="1.80">15</tspan><tspan dy="-1.80">O</tspan><tspan font-size="4.0" dy="1.80">18</tspan></text>
<line x1="56.9" y1="87.5" x2="54.7" y2="91.8" stroke="#111" stroke-width="0.75"/>
<polygon points="56.9,87.5 56.7,90.1 54.9,89.2" fill="#111"/>
<text class="f" x="82.70" y="104.50" font-size="6.7" text-anchor="start"><tspan dy="-0.00">N</tspan><tspan dy="-0.00">O</tspan><tspan font-size="4.0" dy="1.80">2</tspan></text>
<line x1="81.6" y1="100.5" x2="78.0" y2="97.6" stroke="#111" stroke-width="0.75"/>
<polygon points="81.6,100.5 79.1,99.8 80.4,98.2" fill="#111"/>
<polyline points="227.5,90.5 229.7,87.6 231.2,86.9 233.4,89.8 235.5,89.1 237.7,86.9 239.9,89.1 242.1,90.5 244.3,90.8 256.6,90.8 261.0,90.3 263.2,90.8 274.1,90.8 278.5,89.8 281.4,90.8 293.0,90.8 293.7,90.6 299.5,91.1 314.1,90.6 328.6,91.1 343.2,91.4 357.0,91.4" fill="none" stroke="#00cc00" stroke-width="1.4" stroke-linejoin="round"/>
<polyline points="215.0,91.5 357.0,91.5" fill="none" stroke="#ffff00" stroke-width="1.3" stroke-linejoin="round"/>
<polyline points="223.2,91.0 224.6,86.9 226.8,81.8 229.0,80.4 231.2,81.8 232.6,80.4 234.8,83.3 237.0,82.5 238.5,80.4 239.9,81.1 241.4,82.5 244.3,83.3 247.9,84.0 250.1,86.2 252.3,86.9 256.6,86.9 259.5,87.6 262.5,86.9 265.4,88.4 271.2,88.4 274.1,86.9 277.0,88.4 279.9,86.9 282.8,87.6 285.7,86.9 288.6,86.2 293.0,86.9 293.7,89.2 298.1,87.7 302.5,84.8 305.4,87.0 309.7,86.3 312.6,84.8 314.1,86.3 318.5,87.7 328.6,88.5 334.5,88.7 338.8,89.2 340.3,89.9" fill="none" stroke="#ff0000" stroke-width="1.4" stroke-linejoin="round"/>
<polyline points="302.5,87.7 314.1,87.3 328.6,87.0 343.2,86.7 353.4,86.3" fill="none" stroke="#ff00ff" stroke-width="1.4" stroke-linejoin="round"/>
<polyline points="340.3,91.1 344.6,90.6 346.1,89.9 349.0,90.6 351.9,89.2 354.1,87.7 356.3,87.0 357.0,86.3" fill="none" stroke="#ffff00" stroke-width="1.4" stroke-linejoin="round"/>
<polyline points="220.3,90.5 221.7,89.1 223.9,90.5 226.1,89.8 229.0,90.5 231.9,89.1 234.8,90.5 245.7,89.1 247.9,90.5 250.8,89.1 253.7,90.5 256.6,89.1 261.0,88.4 263.2,86.9 265.4,89.1 268.3,90.5 275.5,89.1 278.5,89.8 282.8,90.5 287.2,89.1 290.1,90.5 287.9,89.9 290.8,88.5 293.7,89.9 296.6,89.2 299.5,89.9 303.9,89.2 308.3,89.9 312.6,88.5 317.0,89.9 322.8,89.2 328.6,89.9 334.5,89.2 338.8,86.3 340.3,85.5 344.6,84.8 349.0,82.6 351.9,83.4 354.8,81.9 357.0,82.3" fill="none" stroke="#0000ff" stroke-width="1.4" stroke-linejoin="round"/>
<polyline points="215.2,37.5 221.0,37.5 222.5,38.6 223.9,37.7 225.4,41.1 226.8,48.4 228.3,52.0 229.7,58.5 230.7,62.2 231.9,60.0 233.4,51.3 234.8,44.7 236.3,46.2 237.7,44.7 239.2,50.5 240.6,46.9 242.1,47.6 243.5,44.7 245.7,45.5 247.9,46.9 250.1,43.3 251.5,41.8 253.0,46.2 254.5,44.0 255.9,42.5 257.4,44.0 259.5,49.1 261.7,52.7 263.2,51.3 264.6,45.5 266.1,46.9 267.5,46.2 269.0,49.1 271.2,54.9 273.4,54.9 275.5,53.5 277.7,51.3 279.2,49.8 280.6,52.7 282.1,55.6 283.5,59.3 284.6,52.0 285.7,54.2 287.2,55.6 288.6,57.1 290.1,54.9 287.2,54.9 289.4,57.1 291.5,54.9 293.7,54.2 295.2,54.9 297.4,53.5 298.8,53.5 300.3,58.5 302.5,61.5 304.6,67.3 306.1,58.5 307.5,51.3 309.0,56.4 310.5,60.0 311.9,63.6 313.4,62.9 314.8,73.2 316.3,60.8 318.5,60.1 320.6,57.9 322.1,61.5 324.3,60.8 326.5,65.2 328.6,65.9 330.8,65.2 333.0,68.1 335.2,65.9 337.4,67.4 340.3,70.3 342.5,68.8 344.6,67.4 346.8,68.8 349.0,65.2 351.2,68.8 353.4,65.9 355.5,68.8 357.0,64.5" fill="none" stroke="#000000" stroke-width="1.4" stroke-linejoin="round"/>
<text class="f" x="258.50" y="36.70" font-size="6.7" text-anchor="start"><tspan dy="-0.00">C</tspan><tspan font-size="4.0" dy="1.80">6</tspan><tspan dy="-1.80">H</tspan><tspan font-size="4.0" dy="1.80">6</tspan><tspan dy="-1.80">N</tspan><tspan font-size="4.0" dy="1.80">12</tspan><tspan dy="-1.80">O</tspan><tspan font-size="4.0" dy="1.80">12</tspan></text>
<line x1="257.4" y1="35.3" x2="251.5" y2="41.8" stroke="#111" stroke-width="0.75"/>
<polygon points="257.4,35.3 256.5,37.7 255.0,36.4" fill="#111"/>
<text class="f" x="217.10" y="76.00" font-size="6.7" text-anchor="start"><tspan dy="-0.00">N</tspan><tspan dy="-0.00">O</tspan><tspan font-size="4.0" dy="1.80">2</tspan></text>
<line x1="222.5" y1="79.0" x2="223.0" y2="88.0" stroke="#111" stroke-width="0.75"/>
<polygon points="222.5,79.0 223.6,81.3 221.6,81.5" fill="#111"/>
<text class="f" x="237.40" y="75.30" font-size="6.7" text-anchor="start"><tspan dy="-0.00">C</tspan><tspan font-size="4.0" dy="1.80">12</tspan><tspan dy="-1.80">H</tspan><tspan font-size="4.0" dy="1.80">12</tspan><tspan dy="-1.80">N</tspan><tspan font-size="4.0" dy="1.80">24</tspan><tspan dy="-1.80">O</tspan><tspan font-size="4.0" dy="1.80">24</tspan></text>
<line x1="245.7" y1="76.0" x2="243.5" y2="81.8" stroke="#111" stroke-width="0.75"/>
<polygon points="245.7,76.0 245.8,78.6 243.9,77.9" fill="#111"/>
<text class="f" x="221.40" y="102.90" font-size="6.7" text-anchor="start"><tspan dy="-0.00">C</tspan><tspan font-size="4.0" dy="1.80">18</tspan><tspan dy="-1.80">H</tspan><tspan font-size="4.0" dy="1.80">18</tspan><tspan dy="-1.80">N</tspan><tspan font-size="4.0" dy="1.80">36</tspan><tspan dy="-1.80">O</tspan><tspan font-size="4.0" dy="1.80">36</tspan></text>
<line x1="231.2" y1="94.2" x2="229.7" y2="89.8" stroke="#111" stroke-width="0.75"/>
<polygon points="231.2,94.2 229.5,92.3 231.4,91.6" fill="#111"/>
<text class="f" x="317.40" y="78.30" font-size="6.7" text-anchor="start"><tspan dy="-0.00">N</tspan><tspan dy="-0.00">O</tspan><tspan font-size="4.0" dy="1.80">3</tspan></text>
<line x1="319.2" y1="81.2" x2="317.0" y2="85.5" stroke="#111" stroke-width="0.75"/>
<polygon points="319.2,81.2 319.0,83.8 317.2,82.9" fill="#111"/>
<text class="f" x="340.70" y="101.50" font-size="6.7" text-anchor="start"><tspan dy="-0.00">N</tspan><tspan font-size="4.0" dy="1.80">2</tspan><tspan dy="-1.80">O</tspan><tspan font-size="4.0" dy="1.80">5</tspan></text>
<line x1="349.7" y1="94.3" x2="351.9" y2="89.9" stroke="#111" stroke-width="0.75"/>
<polygon points="349.7,94.3 349.9,91.7 351.7,92.6" fill="#111"/>
<polyline points="397.9,46.9 399.4,49.1 400.8,45.5 402.3,46.9 403.7,47.3 405.2,46.9 406.6,43.3 408.1,39.6 409.5,38.2 411.7,38.9 413.2,37.5 414.6,38.6 416.1,37.7 418.3,38.9 420.5,38.2 422.6,39.6 424.1,38.2 426.3,38.9 428.5,38.2 429.9,37.5 432.1,38.9 434.3,37.5 436.5,38.2 437.9,36.7 439.4,35.3 440.8,36.7 442.3,36.0 444.5,36.3 446.6,35.3 449.5,34.5 451.7,36.0 453.2,38.2 454.6,40.4 459.0,40.4 461.9,41.1 463.4,43.3 466.3,42.5 465.0,42.5 467.9,43.0 470.1,44.7 473.0,41.8 475.2,44.0 477.4,41.8 481.0,41.8 483.9,43.3 485.4,44.7 487.5,41.8 490.5,40.4 494.1,40.4 499.9,40.4 502.8,41.5 504.3,41.1 507.2,42.5 511.5,43.0 513.7,44.0 515.2,46.2 517.4,43.6 520.3,43.6 523.2,44.0 526.1,43.3 529.0,42.5 531.9,43.0 534.8,42.5 537.0,45.5 538.5,46.2 539.2,46.2" fill="none" stroke="#000000" stroke-width="1.4" stroke-linejoin="round"/>
<polyline points="397.2,83.2 409.5,83.2 412.5,81.7 415.4,80.7 419.7,80.7 421.9,79.5 424.1,80.3 426.3,79.5 434.3,79.5 437.2,80.7 443.0,80.7 453.2,81.0 454.6,82.0 456.1,80.7 460.5,80.3 462.6,78.8 464.1,81.7 466.3,79.5 469.4,79.5 472.3,81.0 475.2,79.5 477.4,80.7 485.4,80.7 487.5,82.2 504.3,82.2 508.6,79.5 511.5,80.0 515.2,82.2 518.8,79.5 526.8,79.5 529.7,81.7 531.2,81.0 532.2,83.2 534.1,81.0 536.3,80.3 539.2,78.4" fill="none" stroke="#ff0000" stroke-width="1.4" stroke-linejoin="round"/>
<text class="f" x="415.80" y="50.50" font-size="6.7" text-anchor="start"><tspan dy="-0.00">C</tspan><tspan font-size="4.0" dy="1.80">7</tspan><tspan dy="-1.80">H</tspan><tspan font-size="4.0" dy="1.80">5</tspan><tspan dy="-1.80">N</tspan><tspan font-size="4.0" dy="1.80">3</tspan><tspan dy="-1.80">O</tspan><tspan font-size="4.0" dy="1.80">6</tspan></text>
<line x1="415.4" y1="45.5" x2="409.5" y2="41.0" stroke="#111" stroke-width="0.75"/>
<polygon points="415.4,45.5 412.9,44.8 414.1,43.2" fill="#111"/>
<text class="f" x="420.90" y="93.40" font-size="6.7" text-anchor="start"><tspan dy="-0.00">C</tspan><tspan font-size="4.0" dy="1.80">14</tspan><tspan dy="-1.80">H</tspan><tspan font-size="4.0" dy="1.80">10</tspan><tspan dy="-1.80">N</tspan><tspan font-size="4.0" dy="1.80">6</tspan><tspan dy="-1.80">O</tspan><tspan font-size="4.0" dy="1.80">12</tspan></text>
<line x1="420.5" y1="86.8" x2="414.6" y2="81.7" stroke="#111" stroke-width="0.75"/>
<polygon points="420.5,86.8 418.0,86.0 419.3,84.5" fill="#111"/>
<polyline points="33.0,244.9 175.6,244.9" fill="none" stroke="#dd2222" stroke-width="1.3" stroke-linejoin="round"/>
<polyline points="100.0,237.0 104.4,237.0 108.7,237.7 111.6,237.7 113.1,239.2 116.0,239.9 118.2,238.5 120.4,240.6 123.3,239.2 125.5,240.6 127.6,239.9 129.8,241.4 132.0,242.8 137.8,243.5 143.6,244.0 158.2,243.5 165.5,244.3 175.6,244.0" fill="none" stroke="#00dd00" stroke-width="1.3" stroke-linejoin="round"/>
<polyline points="79.5,244.9 88.2,244.3 95.5,244.3 102.7,243.5 102.9,244.3 105.8,241.4 108.7,239.9 111.6,236.3 114.5,234.8 117.5,234.1 120.4,233.4 121.8,234.1 123.3,230.5 124.7,227.5 126.2,230.5 127.6,232.6 129.1,229.7 130.5,231.9 132.0,235.5 133.5,237.7 134.9,231.9 136.4,230.5 137.8,232.6 139.3,230.5 140.7,225.4 142.9,221.7 144.4,225.4 146.5,230.5 148.0,227.5 149.5,231.2 150.9,231.9 152.4,226.8 153.8,228.3 155.3,225.4 156.7,222.5 158.2,219.5 159.6,216.6 161.1,221.0 162.5,219.5 164.0,218.8 165.5,215.9 166.9,217.4 168.4,213.7 169.8,216.6 171.3,210.8 172.7,207.9 174.2,210.8 175.6,213.0" fill="none" stroke="#1a1a8c" stroke-width="1.4" stroke-linejoin="round"/>
<polyline points="100.0,244.0 129.1,244.0 133.5,242.5 137.8,242.1 143.6,241.7 146.5,240.6 149.5,239.9 152.4,238.7 155.3,239.6 158.2,239.9 161.1,239.2 164.0,239.9 166.9,239.6 169.8,239.9 172.7,238.7 175.6,239.9" fill="none" stroke="#ff00ff" stroke-width="1.3" stroke-linejoin="round"/>
<polyline points="146.5,237.7 148.7,236.3 150.2,237.7 151.6,239.9 153.8,241.4 156.7,242.1 159.6,240.6 162.5,242.8 165.5,241.4 168.4,242.5 171.3,241.4 175.6,242.1" fill="none" stroke="#00e5ee" stroke-width="1.3" stroke-linejoin="round"/>
<line x1="62.1" y1="243.7" x2="98.4" y2="243.7" stroke="#00e5ee" stroke-width="1.6" stroke-dasharray="1.5,3"/>
<polyline points="33.0,245.2 175.6,245.2" fill="none" stroke="#a020a0" stroke-width="1.2" stroke-linejoin="round"/>
<line x1="100" y1="245.2" x2="175.6" y2="245.2" stroke="#ff2020" stroke-width="1.2" stroke-dasharray="3,1.5"/>
<polyline points="43.1,244.9 44.5,244.2 46.0,242.0 47.5,236.9 48.9,231.8 50.4,237.6 51.8,234.0 54.0,233.3 55.5,232.5 56.9,231.8 58.4,234.7 59.8,233.3 61.3,235.5 62.7,234.0 64.2,235.5 65.6,237.6 67.1,241.3 68.5,239.1 70.0,240.5 71.5,236.9 72.9,236.2 74.4,239.8 76.5,241.3 78.7,239.1 80.2,240.5 81.6,239.1 83.8,241.3 85.3,242.7 87.5,244.9" fill="none" stroke="#000000" stroke-width="1.4" stroke-linejoin="round"/>
<polyline points="32.9,191.5 43.8,191.5 45.3,193.3 46.7,196.2 47.7,196.2 48.6,183.8 49.6,183.1 50.4,185.3 51.1,188.9 52.5,191.8 54.0,195.5 56.2,202.7 58.4,204.2 60.5,206.4 62.0,211.5 63.5,210.0 64.9,208.5 65.6,207.1 67.1,213.6 68.5,215.8 70.0,220.0 69.3,218.7 70.7,222.4 72.2,223.8 74.4,224.5 76.5,230.4 78.7,230.4 80.9,231.1 83.1,230.4 85.3,230.4 87.5,226.0 89.6,227.5 91.1,230.4 94.0,230.4 96.2,231.8 97.6,234.0 98.4,236.9 99.8,237.6 102.7,236.9 105.6,237.6 110.0,237.6 104.4,237.0" fill="none" stroke="#00ee00" stroke-width="1.4" stroke-linejoin="round"/>
<polyline points="43.8,191.5 44.5,196.2 45.7,191.8 46.4,183.1 47.5,180.2 48.6,185.3 49.3,198.4 50.4,201.3 51.8,202.7 53.3,207.8 55.5,213.6 57.6,218.0 59.1,220.0 58.4,224.5 59.8,229.6 61.3,226.0 62.7,224.5 64.9,226.0 66.4,224.5 68.5,225.3 70.7,226.0 72.2,228.9 73.6,231.8 75.8,236.9 78.0,235.5 79.5,233.3 81.6,236.2 83.8,236.9 86.0,236.2 88.2,236.9 89.6,239.1 91.1,241.3 94.0,242.0 96.9,242.7 101.3,244.2 110.0,244.9" fill="none" stroke="#ff0000" stroke-width="1.4" stroke-linejoin="round"/>
<polyline points="44.5,244.9 46.7,244.2 48.9,241.3 50.4,238.4 51.8,235.5 53.3,234.0 55.5,232.5 57.6,228.9 59.1,227.5 60.5,231.1 62.0,229.6 64.2,226.7 65.6,226.0 67.1,224.5 68.5,221.6 70.0,223.8 71.5,226.0 73.6,224.5 75.1,228.9 76.5,227.5 78.7,226.7 80.9,224.5 82.4,223.8 83.8,221.6 85.3,218.7 86.7,218.0 88.2,213.6 89.6,216.5 89.6,218.0 91.0,221.2 92.8,218.9 94.2,217.1 95.6,223.5 96.9,225.0 98.3,221.6 99.7,217.1 101.1,219.8 102.4,218.0 103.8,217.5 105.2,220.7 106.6,221.2 107.9,216.1 109.3,214.3 110.2,212.5 111.1,215.2 112.5,216.1 113.9,209.7 115.3,200.6 116.6,206.1 117.5,207.9 118.5,203.3 119.4,200.6 120.3,202.4 121.7,206.5 122.6,199.2 124.0,196.9 125.3,195.1 126.7,196.4 127.6,197.7 129.1,199.2 131.3,199.9 133.5,200.6 134.9,201.4 137.1,203.5 139.3,204.3 141.5,206.5 143.6,205.0 145.1,208.6 146.5,202.8 148.0,201.4 149.5,208.6 151.6,210.8 153.8,210.1 155.3,212.3 156.7,214.5 158.2,216.6 159.6,219.5 161.1,223.9 162.5,221.0 164.0,218.8 165.5,221.0 166.9,218.1 168.4,215.2 169.8,218.1 171.3,212.3 172.7,206.5 174.2,211.5 175.6,218.8" fill="none" stroke="#0000ff" stroke-width="1.4" stroke-linejoin="round"/>
<text class="f" x="54.40" y="181.60" font-size="6.7" text-anchor="start"><tspan dy="-0.00">C</tspan><tspan font-size="4.0" dy="1.80">6</tspan><tspan dy="-1.80">H</tspan><tspan font-size="4.0" dy="1.80">6</tspan><tspan dy="-1.80">N</tspan><tspan font-size="4.0" dy="1.80">12</tspan><tspan dy="-1.80">O</tspan><tspan font-size="4.0" dy="1.80">12</tspan></text>
<line x1="54.0" y1="177.3" x2="48.9" y2="179.5" stroke="#111" stroke-width="0.75"/>
<polygon points="54.0,177.3 52.2,179.2 51.4,177.3" fill="#111"/>
<text class="f" x="65.30" y="202.70" font-size="6.7" text-anchor="start"><tspan dy="-0.00">C</tspan><tspan font-size="4.0" dy="1.80">7</tspan><tspan dy="-1.80">H</tspan><tspan font-size="4.0" dy="1.80">5</tspan><tspan dy="-1.80">N</tspan><tspan font-size="4.0" dy="1.80">3</tspan><tspan dy="-1.80">O</tspan><tspan font-size="4.0" dy="1.80">6</tspan></text>
<line x1="64.9" y1="200.5" x2="59.8" y2="204.9" stroke="#111" stroke-width="0.75"/>
<polygon points="64.9,200.5 63.7,202.8 62.4,201.3" fill="#111"/>
<text class="f" x="40.60" y="252.20" font-size="6.7" text-anchor="start"><tspan dy="-0.00">C</tspan><tspan font-size="4.0" dy="1.80">15</tspan><tspan dy="-1.80">H</tspan><tspan font-size="4.0" dy="1.80">11</tspan><tspan dy="-1.80">N</tspan><tspan font-size="4.0" dy="1.80">15</tspan><tspan dy="-1.80">O</tspan><tspan font-size="4.0" dy="1.80">18</tspan></text>
<line x1="48.2" y1="248.5" x2="46.0" y2="245.6" stroke="#111" stroke-width="0.75"/>
<polygon points="48.2,248.5 46.0,247.2 47.5,246.0" fill="#111"/>
<text class="f" x="133.20" y="196.30" font-size="6.7" text-anchor="start"><tspan dy="-0.00">N</tspan><tspan dy="-0.00">O</tspan><tspan font-size="4.0" dy="1.80">2</tspan></text>
<line x1="132.7" y1="193.4" x2="127.6" y2="196.3" stroke="#111" stroke-width="0.75"/>
<polygon points="132.7,193.4 131.1,195.5 130.1,193.7" fill="#111"/>
<text class="f" x="130.20" y="228.30" font-size="6.7" text-anchor="start"><tspan dy="-0.00">N</tspan><tspan font-size="4.0" dy="1.80">2</tspan></text>
<line x1="129.8" y1="226.8" x2="126.2" y2="228.3" stroke="#111" stroke-width="0.75"/>
<polygon points="129.8,226.8 128.0,228.6 127.2,226.8" fill="#111"/>
<text class="f" x="136.80" y="239.20" font-size="6.7" text-anchor="start"><tspan dy="-0.00">N</tspan><tspan dy="-0.00">O</tspan></text>
<line x1="145.8" y1="237.0" x2="149.5" y2="237.7" stroke="#111" stroke-width="0.75"/>
<polygon points="145.8,237.0 148.3,236.5 148.0,238.4" fill="#111"/>
<text class="f" x="157.20" y="234.80" font-size="6.7" text-anchor="start"><tspan dy="-0.00">N</tspan><tspan font-size="4.0" dy="1.80">2</tspan><tspan dy="-1.80">O</tspan></text>
<line x1="157.5" y1="233.4" x2="154.5" y2="237.0" stroke="#111" stroke-width="0.75"/>
<polygon points="157.5,233.4 156.7,235.9 155.2,234.6" fill="#111"/>
<text class="f" x="131.00" y="254.50" font-size="6.7" text-anchor="start"><tspan dy="-0.00">H</tspan><tspan font-size="4.0" dy="1.80">2</tspan><tspan dy="-1.80">O</tspan></text>
<line x1="131.3" y1="250.1" x2="129.1" y2="246.5" stroke="#111" stroke-width="0.75"/>
<polygon points="131.3,250.1 129.2,248.6 130.9,247.5" fill="#111"/>
<polyline points="280.0,240.5 287.3,241.3 294.5,240.5 301.8,242.0 309.1,239.8 316.4,238.4 323.6,239.1 330.9,241.3 338.2,240.5 345.5,241.3 352.7,242.0 357.1,242.7" fill="none" stroke="#3a78c0" stroke-width="1.2" stroke-linejoin="round"/>
<polyline points="244.0,244.6 248.4,242.5 251.3,243.2 255.6,242.5 258.5,241.0 261.5,240.3 264.4,240.3 267.3,239.5 270.2,238.8 272.4,241.0 274.5,243.9 277.5,242.5 281.8,241.7 286.2,242.5 290.5,244.6 292.0,245.4 293.1,245.6 296.0,245.6 298.9,244.2 301.8,244.9 304.7,245.6 309.1,244.9 312.0,245.6 316.4,243.5 320.7,242.7 326.5,242.7 329.5,241.3 332.4,244.2 335.3,242.7 338.2,241.3 341.1,242.0 344.0,242.7 346.9,244.9 349.8,244.2 352.7,242.0 357.1,242.7" fill="none" stroke="#8b1a8b" stroke-width="1.3" stroke-linejoin="round"/>
<polyline points="255.6,245.4 262.9,244.6 270.2,244.6 274.5,243.2 277.5,240.3 280.4,238.8 283.3,241.0 286.2,241.7 289.1,239.5 292.0,238.8 294.5,243.5 300.4,242.7 306.2,241.3 309.1,240.5 312.0,241.3 314.9,239.8 317.8,237.6 320.7,239.1 323.6,240.5 326.5,238.4 329.5,239.8 332.4,238.4 335.3,239.1 338.2,237.6 341.1,235.5 344.0,234.0 346.9,234.7 349.8,232.5 352.7,231.8 354.2,236.2 355.6,240.5" fill="none" stroke="#00dd44" stroke-width="1.3" stroke-linejoin="round"/>
<polyline points="232.4,243.9 233.8,242.5 235.3,243.9 238.2,244.6 241.1,242.5 243.3,243.9 245.5,241.7 247.6,240.3 249.8,239.5 252.0,238.1 253.5,235.2 254.9,233.7 257.1,238.1 259.3,233.7 261.5,235.9 263.6,233.0 265.8,230.8 267.3,229.4 268.7,234.5 270.2,237.4 271.6,234.5 273.1,241.0 274.5,243.2 276.0,241.0 278.2,239.5 280.4,242.5 283.3,241.0 286.2,240.3 289.1,241.0 292.0,243.2 294.5,235.5 297.5,237.6 300.4,239.1 303.3,236.2 306.2,234.7 309.1,234.0 312.0,234.0 314.9,239.1 317.8,238.4 320.7,236.9 323.6,239.1 326.5,239.8 329.5,236.9 332.4,239.1 335.3,237.6 338.2,239.8 341.1,235.5 344.0,236.9 346.9,239.1 349.8,234.7 352.7,237.6 355.6,239.1" fill="none" stroke="#ff00ff" stroke-width="1.3" stroke-linejoin="round"/>
<polyline points="214.9,245.9 255.6,245.9 280.0,241.3 285.8,239.1 288.7,237.6 291.6,235.5 294.5,234.0 297.5,231.8 300.4,230.4 303.3,228.2 306.2,228.9 309.1,226.0 312.0,225.3 313.5,226.7 314.9,228.9 316.4,223.8 317.8,220.9 319.3,223.8 320.7,227.5 322.2,221.6 323.6,217.3 325.1,218.7 326.5,214.4 328.0,211.5 328.0,208.6 329.5,207.2 330.9,208.6 332.4,205.7 333.8,204.3 335.3,205.0 336.7,203.5 338.2,202.1 339.6,197.0 341.1,191.9 342.5,194.1 343.3,196.3 344.7,191.9 346.2,186.1 347.2,194.1 348.4,191.9 349.8,195.5 351.3,202.1 352.7,197.0 354.2,183.9 355.6,181.0 357.1,178.8" fill="none" stroke="#4f9a4f" stroke-width="1.3" stroke-linejoin="round"/>
<polyline points="214.8,246.0 357.5,246.0" fill="none" stroke="#222" stroke-width="1.3" stroke-linejoin="round"/>
<circle cx="328.7" cy="246.0" r="1.3" fill="#000"/>
<polyline points="214.9,203.2 220.0,203.2 221.5,206.8 222.2,210.5 223.6,211.2 224.4,216.3 225.1,220.6 225.8,225.7 226.5,227.9 228.0,228.6 228.0,227.9 228.7,231.5 230.2,233.7 231.6,236.6 233.8,239.5 236.0,242.5 238.2,244.6 241.1,245.9" fill="none" stroke="#000000" stroke-width="1.4" stroke-linejoin="round"/>
<polyline points="217.8,245.9 220.0,244.6 222.2,245.4 224.4,243.9 225.8,239.5 226.5,235.2 227.3,230.8 228.0,227.2 228.7,223.5 229.5,225.0 230.9,231.5 232.4,230.1 233.8,225.7 235.3,222.8 236.7,227.2 238.2,228.6 239.6,224.3 241.1,225.7 242.5,228.6 244.0,230.1 245.5,232.3 246.9,230.1 248.4,231.5 249.8,230.1 251.3,230.8 252.7,229.4 254.2,228.6 255.6,225.7 257.1,223.5 258.5,227.2 260.0,233.0 261.5,231.5 262.9,233.0 264.4,228.6 265.8,231.5 267.3,228.6 268.7,230.1 270.2,232.3 271.6,230.1 273.1,233.0 274.5,231.5 276.0,228.6 277.5,227.2 278.9,226.5 280.4,228.6 281.8,233.0 283.3,234.5 284.7,231.5 286.2,227.2 287.6,225.0 291.6,227.5 293.1,228.9 294.5,231.8 296.7,223.1 298.2,224.5 299.6,230.4 301.8,226.7 303.3,223.1 304.7,227.5 306.2,230.4 307.6,223.1 309.1,226.0 310.5,230.4 312.0,234.0 313.5,236.2 314.9,233.3 316.4,234.7 317.8,236.2 319.3,235.5 320.7,236.9 322.2,234.7 323.6,237.6 325.1,236.2 326.5,230.4 328.0,234.0 329.5,236.2 330.9,234.7 332.4,231.8 333.8,230.4 335.3,231.8 336.7,232.5 338.2,228.2 339.6,226.0 341.1,230.4 342.5,231.8 344.0,230.4 345.5,231.8 346.9,227.5 348.4,226.0 349.8,230.4 351.3,228.9 352.7,227.5 354.2,226.0 355.6,223.1 357.1,224.5" fill="none" stroke="#0000ff" stroke-width="1.4" stroke-linejoin="round"/>
<text class="f" x="227.40" y="208.30" font-size="6.7" text-anchor="start"><tspan dy="-0.00">C</tspan><tspan font-size="4.0" dy="1.80">6</tspan><tspan dy="-1.80">H</tspan><tspan font-size="4.0" dy="1.80">6</tspan><tspan dy="-1.80">N</tspan><tspan font-size="4.0" dy="1.80">12</tspan><tspan dy="-1.80">O</tspan><tspan font-size="4.0" dy="1.80">12</tspan></text>
<line x1="226.5" y1="206.8" x2="222.9" y2="208.3" stroke="#111" stroke-width="0.75"/>
<polygon points="226.5,206.8 224.7,208.6 223.9,206.8" fill="#111"/>
<text class="f" x="244.40" y="222.50" font-size="6.7" text-anchor="start"><tspan dy="-0.00">N</tspan><tspan dy="-0.00">O</tspan><tspan font-size="4.0" dy="1.80">2</tspan></text>
<line x1="243.3" y1="220.6" x2="238.2" y2="222.8" stroke="#111" stroke-width="0.75"/>
<polygon points="243.3,220.6 241.5,222.5 240.7,220.6" fill="#111"/>
<text class="f" x="235.00" y="256.30" font-size="6.7" text-anchor="start"><tspan dy="-0.00">N</tspan><tspan dy="-0.00">O</tspan><tspan font-size="4.0" dy="1.80">3</tspan></text>
<line x1="237.5" y1="249.7" x2="234.5" y2="245.4" stroke="#111" stroke-width="0.75"/>
<polygon points="237.5,249.7 235.3,248.3 236.9,247.2" fill="#111"/>
<text class="f" x="261.90" y="254.80" font-size="6.7" text-anchor="start"><tspan dy="-0.00">H</tspan><tspan font-size="4.0" dy="1.80">2</tspan><tspan dy="-1.80">O</tspan></text>
<line x1="268.0" y1="248.3" x2="269.0" y2="245.4" stroke="#111" stroke-width="0.75"/>
<polygon points="268.0,248.3 267.8,245.7 269.7,246.4" fill="#111"/>
<text class="f" x="294.20" y="257.30" font-size="6.7" text-anchor="start"><tspan dy="-0.00">H</tspan><tspan dy="-0.00">N</tspan><tspan dy="-0.00">O</tspan><tspan font-size="4.0" dy="1.80">3</tspan></text>
<line x1="296.7" y1="250.0" x2="293.8" y2="246.4" stroke="#111" stroke-width="0.75"/>
<polygon points="296.7,250.0 294.4,248.8 296.0,247.5" fill="#111"/>
<text class="f" x="325.50" y="196.30" font-size="6.7" text-anchor="start"><tspan dy="-0.00">N</tspan><tspan font-size="4.0" dy="1.80">2</tspan></text>
<line x1="333.1" y1="193.4" x2="338.9" y2="196.3" stroke="#111" stroke-width="0.75"/>
<polygon points="333.1,193.4 335.7,193.6 334.8,195.4" fill="#111"/>
<polyline points="413.9,233.4 416.1,232.6 418.3,235.5 425.5,235.5 428.5,234.8 438.6,236.3 451.7,238.5 460.5,238.5 466.3,238.7 467.7,239.9" fill="none" stroke="#ff00ff" stroke-width="1.3" stroke-linejoin="round"/>
<polyline points="408.1,239.9 409.5,237.0 411.7,235.5 413.9,237.0 416.8,236.3 419.0,234.8 421.2,237.0 424.1,237.7 427.0,236.3 429.9,237.0 432.8,237.7 435.7,238.5 438.6,237.7 441.5,237.7 444.5,237.0 447.4,238.5 450.3,238.5 453.2,236.3 456.1,235.5 459.0,233.4 461.2,232.6 462.6,233.4 464.8,234.1 466.3,235.5 467.7,236.3 469.2,237.7 470.8,237.7 473.7,238.5 476.6,238.7 479.5,239.2 486.8,239.9 491.2,239.2 494.1,239.9 499.9,239.2 502.8,237.7 505.7,239.2 508.6,239.9 513.0,239.9 517.4,240.2 523.2,240.2" fill="none" stroke="#ffee00" stroke-width="1.3" stroke-linejoin="round"/>
<polyline points="405.2,239.9 406.6,239.2 408.1,238.5 408.8,234.1 410.3,232.6 411.7,233.4 413.9,234.1 416.1,234.8 417.5,236.3 419.7,234.8 421.2,235.5 422.6,234.1 424.8,236.3 426.3,234.8 428.5,234.1 429.9,235.5 431.4,236.3 433.5,237.0 435.7,235.5 438.6,236.3 440.8,233.4 443.0,235.5 445.2,234.1 447.4,235.5 449.5,234.8 451.7,236.3 453.2,237.7 456.1,239.2 461.9,239.6 470.6,239.9" fill="none" stroke="#ff0000" stroke-width="1.3" stroke-linejoin="round"/>
<polyline points="397.4,240.5 539.8,240.5" fill="none" stroke="#3a78c0" stroke-width="1.4" stroke-linejoin="round"/>
<polyline points="485.4,239.9 488.3,239.2 491.2,239.9 498.5,239.6 501.4,238.7 505.7,238.5 507.2,237.0 508.6,236.7 510.1,238.5 511.5,239.9 514.5,239.2 517.4,239.9 520.3,239.6 523.2,239.9 526.1,238.7 529.0,239.2 531.9,239.9 533.4,238.7 534.8,239.9 539.2,240.2" fill="none" stroke="#3a78c0" stroke-width="1.3" stroke-linejoin="round"/>
<polyline points="397.9,187.1 402.3,187.1 403.7,185.4 405.2,183.2 406.3,182.5 407.4,175.9 408.5,168.2 409.5,173.7 410.7,181.0 411.7,187.5 413.2,186.8 414.2,186.8 415.4,191.2 416.5,197.7 417.5,199.2 418.6,201.4 419.7,208.6 420.9,212.3 424.1,212.3 425.5,210.1 427.0,207.2 428.5,211.5 429.9,210.8 431.4,211.5 432.8,210.8 435.0,213.0 435.7,213.0 437.9,215.2 440.1,215.9 441.5,217.4 443.7,219.5 445.2,221.0 447.4,223.2 449.5,224.6 451.7,226.1 453.2,227.5 454.6,229.0 456.1,230.5 457.5,227.5 459.0,226.1 461.2,224.6 463.4,223.9 464.8,225.4 467.0,225.4 468.5,228.3 469.9,229.7 467.9,229.7 470.1,231.2 472.3,230.5 474.5,231.9 476.6,232.6 478.8,234.8 481.0,233.4 483.2,234.1 485.4,235.5 487.5,236.3 489.0,237.3 491.2,238.2 493.4,237.7 495.5,238.7 497.7,239.6 499.9,239.9" fill="none" stroke="#000000" stroke-width="1.4" stroke-linejoin="round"/>
<text class="f" x="419.40" y="192.60" font-size="6.7" text-anchor="start"><tspan dy="-0.00">C</tspan><tspan font-size="4.0" dy="1.80">7</tspan><tspan dy="-1.80">H</tspan><tspan font-size="4.0" dy="1.80">5</tspan><tspan dy="-1.80">N</tspan><tspan font-size="4.0" dy="1.80">3</tspan><tspan dy="-1.80">O</tspan><tspan font-size="4.0" dy="1.80">6</tspan></text>
<line x1="422.6" y1="194.8" x2="419.0" y2="199.9" stroke="#111" stroke-width="0.75"/>
<polygon points="422.6,194.8 422.0,197.3 420.4,196.2" fill="#111"/>
<text class="f" x="400.80" y="224.30" font-size="6.7" text-anchor="start"><tspan dy="-0.00">C</tspan><tspan font-size="4.0" dy="1.80">14</tspan><tspan dy="-1.80">H</tspan><tspan font-size="4.0" dy="1.80">10</tspan><tspan dy="-1.80">N</tspan><tspan font-size="4.0" dy="1.80">6</tspan><tspan dy="-1.80">O</tspan><tspan font-size="4.0" dy="1.80">12</tspan></text>
<line x1="408.1" y1="229.0" x2="408.8" y2="233.4" stroke="#111" stroke-width="0.75"/>
<polygon points="408.1,229.0 409.5,231.2 407.5,231.5" fill="#111"/>
<text class="f" x="440.50" y="251.50" font-size="6.7" text-anchor="start"><tspan dy="-0.00">C</tspan><tspan font-size="4.0" dy="1.80">21</tspan><tspan dy="-1.80">H</tspan><tspan font-size="4.0" dy="1.80">15</tspan><tspan dy="-1.80">N</tspan><tspan font-size="4.0" dy="1.80">9</tspan><tspan dy="-1.80">O</tspan><tspan font-size="4.0" dy="1.80">18</tspan></text>
<line x1="456.1" y1="245.0" x2="458.3" y2="240.6" stroke="#111" stroke-width="0.75"/>
<polygon points="456.1,245.0 456.3,242.4 458.1,243.3" fill="#111"/>
<text class="f" x="466.90" y="223.90" font-size="6.7" text-anchor="start"><tspan dy="-0.00">C</tspan><tspan font-size="4.0" dy="1.80">7</tspan><tspan dy="-1.80">H</tspan><tspan font-size="4.0" dy="1.80">5</tspan><tspan dy="-1.80">N</tspan><tspan font-size="4.0" dy="1.80">3</tspan><tspan dy="-1.80">O</tspan><tspan font-size="4.0" dy="1.80">5</tspan></text>
<line x1="470.1" y1="226.1" x2="468.6" y2="229.7" stroke="#111" stroke-width="0.75"/>
<polygon points="470.1,226.1 470.1,228.7 468.3,227.9" fill="#111"/>
<text class="f" x="506.20" y="229.00" font-size="6.7" text-anchor="start"><tspan dy="-0.00">N</tspan><tspan dy="-0.00">O</tspan><tspan font-size="4.0" dy="1.80">2</tspan></text>
<line x1="509.4" y1="231.2" x2="507.9" y2="236.3" stroke="#111" stroke-width="0.75"/>
<polygon points="509.4,231.2 509.7,233.8 507.8,233.2" fill="#111"/>
<polyline points="32.6,399.7 175.4,399.7" fill="none" stroke="#3a78c0" stroke-width="1.4" stroke-linejoin="round"/>
<polyline points="100.0,397.9 107.3,398.6 114.5,397.9 117.5,396.5 120.4,397.9 126.2,398.6 129.1,397.9 133.5,397.2 136.4,395.0 139.3,395.7 142.2,394.3 145.1,395.7 148.0,395.0 150.9,396.5 153.8,394.3 156.7,395.7 159.6,394.3 162.5,393.5 164.0,392.8 166.2,389.2 167.6,390.6 169.1,392.8 170.5,392.1 172.0,393.5 173.5,392.1 174.9,392.8" fill="none" stroke="#3a78c0" stroke-width="1.3" stroke-linejoin="round"/>
<polyline points="66.4,398.4 73.6,396.9 78.0,396.2 82.4,395.5 88.2,396.2 91.1,395.5 94.0,396.2 96.9,395.9 99.8,396.9 102.7,396.2 105.6,396.9 110.0,397.6 108.7,398.6 114.5,399.4 129.1,399.4" fill="none" stroke="#00e5ee" stroke-width="1.3" stroke-linejoin="round"/>
<polyline points="52.6,399.4 175.4,399.4" fill="none" stroke="#00ffff" stroke-width="2.2" stroke-linejoin="round"/>
<line x1="52.6" y1="399.4" x2="175.4" y2="399.4" stroke="#2a6ad0" stroke-width="1.6" stroke-dasharray="1.5,4"/>
<polyline points="54.7,399.7 66.4,399.1 73.6,397.6 79.5,396.2 82.4,393.3 83.8,390.4 85.3,388.2 86.7,391.8 88.2,390.4 89.6,387.5 91.1,386.7 92.5,388.9 94.0,390.4 95.5,387.5 96.9,386.0 98.4,384.5 99.8,386.0 101.3,385.3 102.7,384.5 104.2,381.6 105.6,380.9 107.1,383.8 108.5,385.3 110.2,384.1 112.4,387.0 114.5,382.6 116.0,379.0 117.5,386.3 118.9,382.6 120.4,380.5 121.8,376.8 123.0,374.6 124.0,381.2 125.5,379.0 126.9,383.4 128.4,380.5 130.5,378.3 132.0,383.4 133.5,381.2 134.9,379.0 136.4,378.3 137.8,381.9 139.3,376.8 140.7,375.4 142.2,373.2 143.6,375.4 145.1,376.1 146.5,378.3 148.0,377.5 149.5,379.7 150.9,381.2 152.4,382.6 153.8,381.9 155.3,382.6 156.7,384.1 158.2,382.6 159.6,386.3 161.1,384.1 162.5,381.9 164.0,383.4 165.5,380.5 166.9,378.3 168.1,376.1 169.1,380.5 170.5,384.1 172.0,383.4 173.5,381.9 174.9,380.5" fill="none" stroke="#8b1a8b" stroke-width="1.3" stroke-linejoin="round"/>
<polyline points="32.9,378.0 41.6,378.0 43.8,380.2 45.3,382.4 46.7,384.5 47.5,388.9 48.9,391.8 50.4,394.7 51.8,395.5 53.3,396.9 54.7,399.1 56.2,399.7 73.6,399.7 94.0,399.1 98.4,399.7" fill="none" stroke="#00ee00" stroke-width="1.4" stroke-linejoin="round"/>
<polyline points="32.9,378.0 41.6,378.0 43.1,379.5 44.5,384.5 46.0,389.6 47.5,394.0 48.9,396.9 50.4,399.1 51.8,399.7" fill="none" stroke="#ff0000" stroke-width="1.4" stroke-linejoin="round"/>
<polyline points="35.1,378.5 37.0,376.3 38.7,378.2" fill="none" stroke="#00ee00" stroke-width="1.6" stroke-linejoin="round"/>
<polyline points="43.1,399.7 44.5,398.4 46.0,394.7 47.5,388.9 48.9,383.8 50.4,386.0 51.8,388.9 53.3,386.7 54.7,385.3 56.2,386.0 57.6,386.7 59.1,387.5 60.5,386.0 62.0,388.2 63.5,390.4 64.9,391.8 66.4,388.9 67.8,386.0 69.3,385.3 70.7,386.7 72.2,388.9 73.6,391.8 75.1,390.4 76.5,388.2 78.0,393.3 79.5,394.7 80.9,393.3 82.4,394.7 85.3,394.0 88.2,394.7 91.1,394.0 94.0,395.5 96.9,396.9 99.8,397.6 102.7,398.4 110.0,399.1 114.5,398.6 129.1,398.9 143.6,398.6" fill="none" stroke="#0000ff" stroke-width="1.4" stroke-linejoin="round"/>
<polyline points="54.7,399.7 59.1,399.1 60.5,396.2 62.0,394.0 64.9,391.8 67.8,388.2 69.3,386.0 70.7,386.7 72.2,388.9 73.6,385.3 75.1,383.1 76.5,381.6 78.0,380.9 79.5,378.7 80.9,378.0 82.4,376.5 83.8,374.4 85.3,372.9 86.7,371.5 88.2,370.5 89.6,368.3 91.1,366.8 92.5,375.5 94.0,368.3 95.5,361.7 96.9,372.6 98.4,366.8 99.8,364.6 101.3,362.5 102.7,363.9 104.2,361.7 105.6,358.8 107.1,359.5 105.8,359.5 108.0,356.5 110.2,353.6 112.4,347.1 113.8,353.6 115.3,350.7 116.7,346.4 118.2,344.2 119.6,344.9 121.1,352.2 123.3,350.7 125.5,348.5 126.9,349.3 128.4,350.0 130.5,352.2 132.0,346.4 133.5,336.2 134.9,342.7 136.4,339.1 137.8,344.9 139.3,339.8 140.7,339.1 142.2,336.2 143.6,338.4 145.1,331.1 146.5,331.8 148.0,333.3 149.5,328.9 150.9,336.2 152.4,343.5 153.8,339.1 155.3,331.8 156.7,328.9 158.2,323.8 159.6,331.8 161.1,349.3 162.5,344.9 164.0,341.3 166.2,339.1 167.6,332.5 169.1,334.0 170.5,338.4 172.7,339.8 174.2,335.5 174.9,331.1" fill="none" stroke="#1a1a8c" stroke-width="1.4" stroke-linejoin="round"/>
<text class="f" x="35.50" y="359.80" font-size="6.7" text-anchor="start"><tspan dy="-0.00">C</tspan><tspan font-size="4.0" dy="1.80">7</tspan><tspan dy="-1.80">H</tspan><tspan font-size="4.0" dy="1.80">5</tspan><tspan dy="-1.80">N</tspan><tspan font-size="4.0" dy="1.80">3</tspan><tspan dy="-1.80">O</tspan><tspan font-size="4.0" dy="1.80">6</tspan></text>
<line x1="40.2" y1="365.4" x2="37.3" y2="375.5" stroke="#111" stroke-width="0.75"/>
<polygon points="40.2,365.4 40.5,368.0 38.6,367.4" fill="#111"/>
<text class="f" x="45.00" y="371.20" font-size="6.7" text-anchor="start"><tspan dy="-0.00">C</tspan><tspan font-size="4.0" dy="1.80">6</tspan><tspan dy="-1.80">H</tspan><tspan font-size="4.0" dy="1.80">6</tspan><tspan dy="-1.80">N</tspan><tspan font-size="4.0" dy="1.80">12</tspan><tspan dy="-1.80">O</tspan><tspan font-size="4.0" dy="1.80">12</tspan></text>
<line x1="49.6" y1="374.1" x2="45.3" y2="380.6" stroke="#111" stroke-width="0.75"/>
<polygon points="49.6,374.1 49.1,376.7 47.4,375.5" fill="#111"/>
<text class="f" x="53.70" y="379.90" font-size="6.7" text-anchor="start"><tspan dy="-0.00">N</tspan><tspan dy="-0.00">O</tspan><tspan font-size="4.0" dy="1.80">2</tspan></text>
<line x1="54.0" y1="379.2" x2="51.1" y2="382.1" stroke="#111" stroke-width="0.75"/>
<polygon points="54.0,379.2 53.0,381.6 51.6,380.2" fill="#111"/>
<text class="f" x="104.10" y="342.70" font-size="6.7" text-anchor="start"><tspan dy="-0.00">N</tspan><tspan font-size="4.0" dy="1.80">2</tspan></text>
<line x1="110.9" y1="340.5" x2="116.0" y2="343.5" stroke="#111" stroke-width="0.75"/>
<polygon points="110.9,340.5 113.5,340.9 112.5,342.6" fill="#111"/>
<text class="f" x="126.60" y="369.50" font-size="6.7" text-anchor="start"><tspan dy="-0.00">H</tspan><tspan font-size="4.0" dy="1.80">2</tspan><tspan dy="-1.80">O</tspan></text>
<line x1="126.9" y1="371.0" x2="123.3" y2="374.6" stroke="#111" stroke-width="0.75"/>
<polygon points="126.9,371.0 125.9,373.4 124.5,372.0" fill="#111"/>
<text class="f" x="115.00" y="393.10" font-size="6.7" text-anchor="start"><tspan dy="-0.00">N</tspan><tspan dy="-0.00">O</tspan></text>
<line x1="114.5" y1="391.4" x2="108.7" y2="395.7" stroke="#111" stroke-width="0.75"/>
<polygon points="114.5,391.4 113.2,393.6 112.0,392.0" fill="#111"/>
<text class="f" x="136.10" y="387.70" font-size="6.7" text-anchor="start"><tspan dy="-0.00">C</tspan><tspan dy="-0.00">O</tspan><tspan font-size="4.0" dy="1.80">2</tspan></text>
<line x1="140.7" y1="388.2" x2="140.7" y2="391.4" stroke="#111" stroke-width="0.75"/>
<polygon points="140.7,388.2 141.7,390.6 139.7,390.6" fill="#111"/>
<polyline points="280.0,394.9 282.9,394.2 285.8,395.6 288.7,395.6 291.6,394.2 294.5,394.9 297.5,395.6 300.4,394.9 303.3,393.5 306.2,394.9 309.1,393.5 312.0,394.9 314.9,394.2 317.8,392.7 320.7,394.9 323.6,393.5 326.5,394.2 329.5,392.7 332.4,394.2 335.3,392.0 338.2,391.3 341.1,393.5 344.0,392.7 346.9,394.9 349.8,393.5 352.7,394.2 355.6,394.9" fill="none" stroke="#00eeee" stroke-width="1.3" stroke-linejoin="round"/>
<polyline points="248.4,397.1 251.3,395.4 254.2,394.6 257.1,393.9 260.0,394.6 262.9,393.2 265.5,393.9" fill="none" stroke="#00eeee" stroke-width="1.3" stroke-linejoin="round"/>
<polyline points="261.5,396.8 270.2,394.6 277.5,393.2 284.7,393.9 292.0,393.2 294.5,389.1 297.5,389.1 300.4,388.4 303.3,389.1 306.2,387.6 309.1,385.5 312.0,387.6 314.9,383.3 317.8,385.5 320.7,388.4 323.6,386.2 326.5,389.1 329.5,386.9 332.4,385.5 335.3,383.3 338.2,384.7 341.1,385.5 344.0,384.0 346.9,386.2 349.8,384.0 352.7,384.7 356.4,384.0" fill="none" stroke="#00dd33" stroke-width="1.3" stroke-linejoin="round"/>
<polyline points="255.6,396.8 270.2,396.5 278.9,396.2 280.0,395.6 282.9,394.9 285.8,394.2 288.7,394.9 291.6,393.5 294.5,392.0 297.5,393.5 300.4,390.5 303.3,392.0 306.2,393.5 309.1,392.7 312.0,391.3 314.9,392.7 317.8,389.1 320.7,391.3 323.6,389.8 326.5,386.9 329.5,389.1 332.4,390.5 335.3,387.6 338.2,389.1 341.1,388.4 344.0,390.5 346.9,389.8 349.8,386.9 352.7,387.6 355.6,389.1" fill="none" stroke="#8b1a8b" stroke-width="1.3" stroke-linejoin="round"/>
<polyline points="214.8,397.0 357.6,397.0" fill="none" stroke="#5a1a8a" stroke-width="1.3" stroke-linejoin="round"/>
<polyline points="233.8,397.1 235.3,395.4 236.7,393.9 238.2,396.1 241.1,395.4 244.0,396.5 246.9,396.1 249.8,393.9 252.7,393.2 255.6,391.0 257.1,389.5 258.5,392.5 260.0,391.0 261.5,388.8 262.9,385.2 264.4,386.6 265.8,389.5 267.3,388.8 268.7,388.1 270.2,389.5 271.6,386.6 273.1,385.9 274.5,387.4 276.0,389.5 277.5,388.8 278.9,386.6 280.4,383.7 282.9,387.6 285.8,385.5 288.7,381.8 291.6,377.5 294.5,378.9 296.7,384.7 298.2,386.2 301.1,382.5 304.0,379.6 306.9,381.8 309.8,382.5 312.7,380.4 315.6,378.9 318.5,383.3 321.5,383.3 324.4,381.8 327.3,380.4 330.2,384.7 333.1,381.8 336.0,378.9 338.9,381.1 341.8,384.0 344.7,381.8 347.6,382.5 350.5,380.4 353.5,381.8 356.4,381.8" fill="none" stroke="#0000ff" stroke-width="1.3" stroke-linejoin="round"/>
<polyline points="261.5,395.0 262.9,388.6 264.4,385.7 265.8,387.2 267.3,388.6 268.7,388.6 270.2,387.2 271.6,388.6 273.1,387.2 274.5,386.5 276.0,388.6 277.5,390.1 278.9,387.2 280.4,384.3 282.9,384.7 285.8,383.3 288.7,380.4 290.9,378.2 292.4,379.6 293.8,381.8 295.3,384.7 296.7,380.4 298.2,386.2 299.6,383.3 301.1,384.7 302.5,380.4 304.0,378.2 305.5,386.2 306.9,381.8 308.4,378.9 309.8,381.1 311.3,384.0 312.7,380.4 314.2,378.9 315.6,373.1 317.1,381.8 318.5,383.3 320.0,385.5 321.5,381.8 322.9,382.5 324.4,380.4 325.8,378.9 327.3,374.5 328.7,381.1 330.2,383.3 331.6,380.4 333.1,378.9 334.5,376.0 336.0,377.5 337.5,381.8 338.9,383.3 340.4,380.4 341.8,381.8 343.3,377.5 344.7,374.5 346.2,381.8 347.6,380.4 349.1,378.9 350.5,383.3 352.0,381.8 353.5,380.4 354.9,383.3 356.4,384.0" fill="none" stroke="#1a1a8c" stroke-width="1.3" stroke-linejoin="round"/>
<polyline points="220.7,397.1 222.9,392.5 224.4,388.1 226.5,385.9 228.0,383.7 229.5,380.8 230.9,379.4 232.4,381.5 233.8,386.6 235.3,388.8 236.7,385.9 238.2,389.5 239.6,387.4 241.1,388.8 242.5,386.6 244.0,383.7 245.5,385.9 246.9,388.1 248.4,389.5 249.8,388.1 251.3,386.6 252.7,384.5 254.2,389.5 255.6,391.0 257.1,392.5 258.5,393.9 261.5,395.4 270.2,396.1 277.5,396.8 280.4,397.1 357.6,397.0" fill="none" stroke="#ff0000" stroke-width="1.3" stroke-linejoin="round"/>
<polyline points="244.0,393.9 245.5,391.0 246.9,388.1 248.4,386.6 249.8,388.8 251.3,389.5 252.7,388.8 254.2,386.6 255.6,380.8 257.1,376.5 258.5,375.0 260.0,371.2 261.5,370.5 262.9,369.7 264.4,362.5 265.8,358.1 267.3,359.5 268.7,362.5 270.2,366.1 271.6,369.7 273.1,365.4 274.5,361.0 276.0,356.6 277.5,359.5 278.9,362.5 281.5,362.2 282.9,356.4 284.4,360.7 285.8,354.9 287.3,352.0 288.7,354.9 290.2,343.3 290.9,338.2 292.4,338.9 293.8,344.7 294.5,347.6 296.0,343.3 297.5,346.2 298.9,346.9 300.4,346.2 301.8,352.0 303.0,355.6 304.7,346.2 306.2,344.0 307.6,338.9 308.8,351.3 309.8,337.5 310.5,332.4 312.0,344.7 313.5,340.4 314.9,338.2 316.1,352.0 317.5,328.7 319.3,334.5 321.5,344.0 322.9,328.7 324.4,346.9 325.8,346.2 327.3,328.7 328.7,334.5 330.2,346.2 331.6,338.9 333.1,336.0 334.5,343.3 336.0,340.4 337.5,348.4 338.9,346.9 340.4,349.8 341.8,322.9 343.3,327.3 344.7,347.6 346.2,333.1 347.6,330.2 349.1,331.6 351.3,325.1 352.7,331.6 354.2,343.3 355.6,341.8 357.1,338.9" fill="none" stroke="#ffee00" stroke-width="1.4" stroke-linejoin="round"/>
<polyline points="214.9,370.5 217.8,370.5 219.3,371.2 220.0,373.4 221.5,375.5 222.2,382.8 222.9,388.6 223.6,393.0 222.9,393.9 224.4,396.5 226.5,397.1" fill="none" stroke="#000000" stroke-width="1.4" stroke-linejoin="round"/>
<text class="f" x="217.50" y="362.50" font-size="6.7" text-anchor="start"><tspan dy="-0.00">C</tspan><tspan font-size="4.0" dy="1.80">6</tspan><tspan dy="-1.80">H</tspan><tspan font-size="4.0" dy="1.80">6</tspan><tspan dy="-1.80">N</tspan><tspan font-size="4.0" dy="1.80">12</tspan><tspan dy="-1.80">O</tspan><tspan font-size="4.0" dy="1.80">12</tspan></text>
<line x1="222.2" y1="366.8" x2="219.3" y2="371.2" stroke="#111" stroke-width="0.75"/>
<polygon points="222.2,366.8 221.7,369.4 220.0,368.3" fill="#111"/>
<text class="f" x="237.60" y="375.50" font-size="6.7" text-anchor="start"><tspan dy="-0.00">N</tspan><tspan dy="-0.00">O</tspan><tspan font-size="4.0" dy="1.80">2</tspan></text>
<line x1="236.0" y1="376.3" x2="232.4" y2="379.9" stroke="#111" stroke-width="0.75"/>
<polygon points="236.0,376.3 235.0,378.7 233.6,377.3" fill="#111"/>
<text class="f" x="267.70" y="382.10" font-size="6.7" text-anchor="start"><tspan dy="-0.00">H</tspan></text>
<line x1="267.3" y1="382.1" x2="263.6" y2="385.7" stroke="#111" stroke-width="0.75"/>
<polygon points="267.3,382.1 266.3,384.5 264.9,383.1" fill="#111"/>
<text class="f" x="275.70" y="371.20" font-size="6.7" text-anchor="start"><tspan dy="-0.00">H</tspan><tspan font-size="4.0" dy="1.80">2</tspan><tspan dy="-1.80">O</tspan></text>
<line x1="284.0" y1="372.6" x2="289.8" y2="379.2" stroke="#111" stroke-width="0.75"/>
<polygon points="284.0,372.6 286.3,373.7 284.8,375.1" fill="#111"/>
<text class="f" x="274.60" y="335.90" font-size="6.7" text-anchor="start"><tspan dy="-0.00">N</tspan><tspan font-size="4.0" dy="1.80">2</tspan></text>
<line x1="283.3" y1="334.1" x2="289.8" y2="338.1" stroke="#111" stroke-width="0.75"/>
<polygon points="283.3,334.1 285.9,334.5 284.8,336.2" fill="#111"/>
<text class="f" x="279.30" y="405.50" font-size="6.7" text-anchor="start"><tspan dy="-0.00">H</tspan><tspan dy="-0.00">N</tspan><tspan font-size="4.0" dy="1.80">3</tspan></text>
<line x1="286.2" y1="399.7" x2="288.4" y2="396.1" stroke="#111" stroke-width="0.75"/>
<polygon points="286.2,399.7 286.6,397.1 288.3,398.2" fill="#111"/>
<text class="f" x="316.80" y="406.50" font-size="6.7" text-anchor="start"><tspan dy="-0.00">C</tspan><tspan dy="-0.00">O</tspan><tspan font-size="4.0" dy="1.80">2</tspan></text>
<line x1="321.5" y1="401.5" x2="321.5" y2="397.8" stroke="#111" stroke-width="0.75"/>
<polygon points="321.5,401.5 320.5,399.1 322.5,399.1" fill="#111"/>
<text class="f" x="337.90" y="406.30" font-size="6.7" text-anchor="start"><tspan dy="-0.00">N</tspan></text>
<line x1="339.6" y1="400.7" x2="339.3" y2="397.1" stroke="#111" stroke-width="0.75"/>
<polygon points="339.6,400.7 338.4,398.4 340.4,398.2" fill="#111"/>
<polyline points="397.4,383.9 462.9,383.9" fill="none" stroke="#ff8c1a" stroke-width="1.4" stroke-linejoin="round"/>
<polyline points="438.6,383.8 445.9,382.9 440.0,381.8 445.7,381.2 451.5,379.5 457.2,378.4 462.9,377.2 467.5,376.7 470.9,375.5 474.4,374.4 477.8,373.8 481.2,373.2 484.7,372.6 487.0,369.2 490.4,369.8 493.8,370.9 497.3,368.1 501.4,369.1 508.6,368.4 515.9,367.6 523.2,366.9 530.5,367.6 537.7,369.1 540.6,368.4" fill="none" stroke="#ffee00" stroke-width="1.3" stroke-linejoin="round"/>
<polyline points="441.5,383.8 445.9,383.4 440.0,381.8 445.7,381.8 451.5,380.7 457.2,380.1 462.9,378.4 468.6,377.8 474.4,375.5 478.9,374.4 483.5,372.6 487.0,368.6 490.4,371.5 493.8,373.2 497.3,372.1 501.4,371.3 508.6,372.0 515.9,372.7 523.2,369.8 530.5,369.1 537.7,368.4 540.6,366.9" fill="none" stroke="#00eeee" stroke-width="1.3" stroke-linejoin="round"/>
<polyline points="403.7,383.8 405.9,381.9 408.1,383.8 437.2,383.4 439.4,382.6 440.0,379.5 441.7,377.2 443.4,380.1 445.2,378.9 446.9,380.1 449.2,379.5 451.5,378.9 453.2,374.4 454.3,377.8 456.0,376.7 457.8,374.4 458.9,372.1 460.0,375.5 461.8,373.2 463.5,370.9 464.6,374.4 466.3,372.1 468.1,374.4 470.4,369.2 472.1,374.4 473.8,372.1 475.5,373.2 477.2,370.4 478.9,369.2 480.7,372.1 482.4,374.4 484.1,373.2 485.8,369.8 487.0,367.5 488.7,369.8 490.4,368.6 492.1,370.9 493.8,369.2 495.6,367.5 497.3,358.9 498.4,365.2 501.4,365.5 503.5,366.2 505.0,364.0 507.2,358.9 508.6,365.5 510.8,361.8 513.0,367.6 515.2,368.4 517.4,364.7 519.5,369.8 521.7,366.2 523.9,364.0 526.1,366.2 529.0,363.3 531.2,367.6 533.4,364.7 535.5,369.1 537.7,374.9 539.2,372.0 540.6,370.5" fill="none" stroke="#22ee22" stroke-width="1.3" stroke-linejoin="round"/>
<polyline points="469.8,383.5 470.9,382.4 474.4,381.2 477.8,381.8 481.2,382.4 483.5,381.2 484.7,378.9 485.8,380.1 487.0,377.8 488.7,379.5 490.4,377.8 492.7,376.7 494.4,380.1 496.1,376.7 498.4,378.9 500.6,375.6 502.8,373.5 505.7,374.2 508.6,374.9 511.5,373.5 514.5,374.9 517.4,374.2 520.3,374.9 523.2,373.5 526.1,375.6 529.0,377.8 531.2,382.2 532.6,380.0 534.8,379.3 537.7,377.8 539.9,374.9 540.6,373.5" fill="none" stroke="#ff00ff" stroke-width="1.3" stroke-linejoin="round"/>
<polyline points="462.9,381.8 466.3,378.9 468.6,377.8 470.9,375.5 473.2,377.8 475.5,378.9 477.8,376.7 480.1,372.1 482.4,374.4 484.7,372.1 486.4,369.8 487.5,374.4 489.3,370.9 491.0,369.2 492.7,369.8 494.4,370.4 496.1,368.6 497.8,369.2 500.6,366.9 502.8,364.7 505.0,366.2 507.2,367.6 509.4,365.5 511.5,370.5 513.7,367.6 515.9,369.8 518.1,366.2 520.3,364.0 521.7,359.6 523.2,360.4 524.6,362.5 526.1,361.1 527.5,362.5 529.0,355.3 530.5,364.7 531.9,367.6 533.4,364.0 534.8,361.1 536.3,358.9 537.7,357.5 539.2,358.2 540.6,358.9" fill="none" stroke="#ff8c1a" stroke-width="1.3" stroke-linejoin="round"/>
<polyline points="470.9,383.9 540.2,383.9" fill="none" stroke="#4040ff" stroke-width="1.4" stroke-linejoin="round"/>
<polyline points="466.3,383.5 470.9,383.5" fill="none" stroke="#ff00ff" stroke-width="1.3" stroke-linejoin="round"/>
<polyline points="403.2,383.9 404.1,381.8 405.0,380.5 405.9,378.2 406.8,375.5 407.7,376.4 408.6,380.0 409.5,383.9" fill="none" stroke="#ff0000" stroke-width="1.3" stroke-linejoin="round"/>
<polyline points="406.8,383.9 407.7,380.0 408.6,377.3 409.5,375.5 410.5,375.0 411.4,375.9 412.3,377.7 413.2,379.5 414.1,380.0 415.0,382.3 415.9,383.9 417.7,383.2 418.6,381.4 419.5,380.5 421.4,380.5 423.2,381.4 424.1,382.7 425.0,383.9 426.8,383.2 428.6,381.8 430.5,380.5 432.3,379.1 433.2,379.5 434.1,380.9 435.5,381.8 436.8,380.0 438.2,379.1 439.5,380.5 440.5,381.8 441.4,380.0 443.2,380.5 445.0,380.9 442.3,380.1 446.9,380.7 451.5,380.1 453.7,381.2 457.2,383.0 462.9,383.5" fill="none" stroke="#0000ff" stroke-width="1.3" stroke-linejoin="round"/>
<polyline points="397.9,330.5 399.4,330.9 400.8,330.2 402.3,331.3 403.7,330.5 404.5,332.4 405.2,330.5 405.9,330.2 406.6,336.0 407.4,346.2 408.1,352.0 408.8,357.8 409.5,362.2 410.3,366.5 409.5,364.5 410.5,369.1 411.4,371.4 412.7,373.6 414.1,375.9 415.9,378.2 417.7,379.5 419.1,380.5 420.5,381.8 422.3,383.5 424.1,383.9" fill="none" stroke="#000000" stroke-width="1.4" stroke-linejoin="round"/>
<text class="f" x="412.90" y="344.00" font-size="6.7" text-anchor="start"><tspan dy="-0.00">C</tspan><tspan font-size="4.0" dy="1.80">7</tspan><tspan dy="-1.80">H</tspan><tspan font-size="4.0" dy="1.80">5</tspan><tspan dy="-1.80">N</tspan><tspan font-size="4.0" dy="1.80">3</tspan><tspan dy="-1.80">O</tspan><tspan font-size="4.0" dy="1.80">6</tspan></text>
<line x1="412.5" y1="343.3" x2="407.4" y2="346.9" stroke="#111" stroke-width="0.75"/>
<polygon points="412.5,343.3 411.1,345.5 410.0,343.9" fill="#111"/>
<text class="f" x="415.10" y="370.30" font-size="6.7" text-anchor="start"><tspan dy="-0.00">C</tspan><tspan font-size="4.0" dy="1.80">14</tspan><tspan dy="-1.80">H</tspan><tspan font-size="4.0" dy="1.80">10</tspan><tspan dy="-1.80">N</tspan><tspan font-size="4.0" dy="1.80">6</tspan><tspan dy="-1.80">O</tspan><tspan font-size="4.0" dy="1.80">12</tspan></text>
<line x1="414.6" y1="368.8" x2="409.5" y2="373.9" stroke="#111" stroke-width="0.75"/>
<polygon points="414.6,368.8 413.6,371.2 412.2,369.8" fill="#111"/>
<text class="f" x="406.30" y="395.00" font-size="6.7" text-anchor="start"><tspan dy="-0.00">N</tspan><tspan dy="-0.00">O</tspan><tspan font-size="4.0" dy="1.80">2</tspan></text>
<line x1="412.5" y1="386.3" x2="413.2" y2="382.6" stroke="#111" stroke-width="0.75"/>
<polygon points="412.5,386.3 412.0,383.8 413.9,384.1" fill="#111"/>
<text class="f" x="460.90" y="366.60" font-size="6.7" text-anchor="start"><tspan dy="-0.00">H</tspan></text>
<line x1="463.4" y1="368.8" x2="460.5" y2="373.2" stroke="#111" stroke-width="0.75"/>
<polygon points="463.4,368.8 462.9,371.4 461.2,370.3" fill="#111"/>
<text class="f" x="480.70" y="358.60" font-size="6.7" text-anchor="start"><tspan dy="-0.00">H</tspan><tspan font-size="4.0" dy="1.80">3</tspan><tspan dy="-1.80">N</tspan></text>
<line x1="487.5" y1="361.8" x2="485.4" y2="369.1" stroke="#111" stroke-width="0.75"/>
<polygon points="487.5,361.8 487.8,364.4 485.9,363.8" fill="#111"/>
<text class="f" x="521.40" y="351.60" font-size="6.7" text-anchor="start"><tspan dy="-0.00">N</tspan><tspan font-size="4.0" dy="1.80">2</tspan></text>
<line x1="523.9" y1="353.8" x2="521.7" y2="358.9" stroke="#111" stroke-width="0.75"/>
<polygon points="523.9,353.8 523.9,356.4 522.0,355.6" fill="#111"/>
<text class="f" x="480.70" y="395.30" font-size="6.7" text-anchor="start"><tspan dy="-0.00">H</tspan><tspan font-size="4.0" dy="1.80">2</tspan><tspan dy="-1.80">O</tspan></text>
<line x1="487.5" y1="387.3" x2="486.8" y2="383.6" stroke="#111" stroke-width="0.75"/>
<polygon points="487.5,387.3 486.1,385.1 488.0,384.8" fill="#111"/>
<text class="f" x="498.20" y="394.50" font-size="6.7" text-anchor="start"><tspan dy="-0.00">H</tspan><tspan font-size="4.0" dy="1.80">2</tspan></text>
<line x1="499.2" y1="386.5" x2="495.5" y2="379.3" stroke="#111" stroke-width="0.75"/>
<polygon points="499.2,386.5 497.2,384.8 499.0,383.9" fill="#111"/>
</svg>
</body></html>
